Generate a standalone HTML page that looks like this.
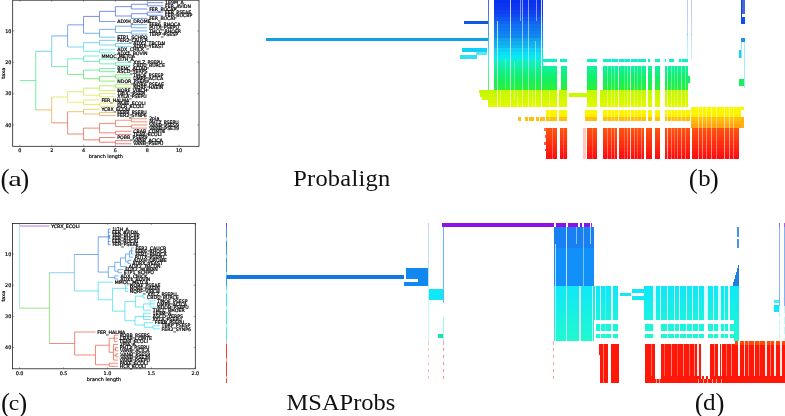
<!DOCTYPE html>
<html><head><meta charset="utf-8"><title>Alignment comparison</title>
<style>html,body{margin:0;padding:0;background:#fff}svg{display:block}text{fill:#111}</style></head>
<body><svg width="785" height="416" viewBox="0 0 785 416">
<rect width="785" height="416" fill="#fff"/>
<g id="heat" shape-rendering="crispEdges">
<rect x="494.00" y="0.00" width="49.00" height="3.00" fill="#0830f0"/>
<rect x="488.00" y="0.00" width="1.00" height="3.00" fill="#0830f0" fill-opacity="0.75"/>
<rect x="494.00" y="3.00" width="49.00" height="4.00" fill="#0a34f0"/>
<rect x="488.00" y="3.00" width="1.00" height="4.00" fill="#0a34f0" fill-opacity="0.75"/>
<rect x="494.00" y="7.00" width="49.00" height="3.00" fill="#0c38f0"/>
<rect x="488.00" y="7.00" width="1.00" height="3.00" fill="#0c38f0" fill-opacity="0.75"/>
<rect x="494.00" y="10.00" width="49.00" height="4.00" fill="#0e40f0"/>
<rect x="488.00" y="10.00" width="1.00" height="4.00" fill="#0e40f0" fill-opacity="0.75"/>
<rect x="494.00" y="14.00" width="49.00" height="3.00" fill="#1048f0"/>
<rect x="488.00" y="14.00" width="1.00" height="3.00" fill="#1048f0" fill-opacity="0.75"/>
<rect x="494.00" y="17.00" width="49.00" height="4.00" fill="#1056f0"/>
<rect x="488.00" y="17.00" width="1.00" height="4.00" fill="#1056f0" fill-opacity="0.75"/>
<rect x="494.00" y="21.00" width="49.00" height="3.00" fill="#1064f0"/>
<rect x="488.00" y="21.00" width="1.00" height="3.00" fill="#1064f0" fill-opacity="0.75"/>
<rect x="494.00" y="24.00" width="49.00" height="4.00" fill="#1070f0"/>
<rect x="488.00" y="24.00" width="1.00" height="4.00" fill="#1070f0" fill-opacity="0.75"/>
<rect x="494.00" y="28.00" width="49.00" height="3.00" fill="#1078f0"/>
<rect x="488.00" y="28.00" width="1.00" height="3.00" fill="#1078f0" fill-opacity="0.75"/>
<rect x="494.00" y="31.00" width="49.00" height="4.00" fill="#1080f0"/>
<rect x="488.00" y="31.00" width="1.00" height="4.00" fill="#1080f0" fill-opacity="0.75"/>
<rect x="494.00" y="34.00" width="49.00" height="4.00" fill="#1088f0"/>
<rect x="488.00" y="34.00" width="1.00" height="4.00" fill="#1088f0" fill-opacity="0.75"/>
<rect x="494.00" y="38.00" width="49.00" height="3.00" fill="#10a0ec"/>
<rect x="488.00" y="38.00" width="1.00" height="3.00" fill="#10a0ec" fill-opacity="0.75"/>
<rect x="494.00" y="41.00" width="49.00" height="4.00" fill="#10acee"/>
<rect x="488.00" y="41.00" width="1.00" height="4.00" fill="#10acee" fill-opacity="0.75"/>
<rect x="494.00" y="45.00" width="49.00" height="3.00" fill="#10b8f0"/>
<rect x="488.00" y="45.00" width="1.00" height="3.00" fill="#10b8f0" fill-opacity="0.75"/>
<rect x="494.00" y="48.00" width="49.00" height="4.00" fill="#10d0f8"/>
<rect x="488.00" y="48.00" width="1.00" height="4.00" fill="#10d0f8" fill-opacity="0.75"/>
<rect x="494.00" y="52.00" width="49.00" height="3.00" fill="#08e0f8"/>
<rect x="488.00" y="52.00" width="1.00" height="3.00" fill="#08e0f8" fill-opacity="0.75"/>
<rect x="494.00" y="55.00" width="49.00" height="4.00" fill="#08e8f0"/>
<rect x="488.00" y="55.00" width="1.00" height="4.00" fill="#08e8f0" fill-opacity="0.75"/>
<rect x="494.00" y="59.00" width="49.00" height="3.00" fill="#10f0c8"/>
<rect x="488.00" y="59.00" width="1.00" height="3.00" fill="#10f0c8" fill-opacity="0.75"/>
<rect x="494.00" y="62.00" width="49.00" height="4.00" fill="#10f0b4"/>
<rect x="488.00" y="62.00" width="1.00" height="4.00" fill="#10f0b4" fill-opacity="0.75"/>
<rect x="494.00" y="66.00" width="49.00" height="3.00" fill="#10f0a0"/>
<rect x="488.00" y="66.00" width="1.00" height="3.00" fill="#10f0a0" fill-opacity="0.75"/>
<rect x="494.00" y="69.00" width="49.00" height="3.00" fill="#10f08d"/>
<rect x="488.00" y="69.00" width="1.00" height="3.00" fill="#10f08d" fill-opacity="0.75"/>
<rect x="494.00" y="72.00" width="49.00" height="4.00" fill="#10f07b"/>
<rect x="488.00" y="72.00" width="1.00" height="4.00" fill="#10f07b" fill-opacity="0.75"/>
<rect x="494.00" y="76.00" width="49.00" height="3.00" fill="#10f068"/>
<rect x="488.00" y="76.00" width="1.00" height="3.00" fill="#10f068" fill-opacity="0.75"/>
<rect x="494.00" y="79.00" width="49.00" height="4.00" fill="#18f05b"/>
<rect x="488.00" y="79.00" width="1.00" height="4.00" fill="#18f05b" fill-opacity="0.75"/>
<rect x="494.00" y="83.00" width="49.00" height="3.00" fill="#20f04d"/>
<rect x="488.00" y="83.00" width="1.00" height="3.00" fill="#20f04d" fill-opacity="0.75"/>
<rect x="494.00" y="86.00" width="49.00" height="4.00" fill="#28f040"/>
<rect x="488.00" y="86.00" width="1.00" height="4.00" fill="#28f040" fill-opacity="0.75"/>
<rect x="687.00" y="0.00" width="1.00" height="3.00" fill="#0830f0" fill-opacity="0.27"/>
<rect x="691.00" y="0.00" width="1.00" height="3.00" fill="#0830f0" fill-opacity="0.27"/>
<rect x="687.00" y="3.00" width="1.00" height="4.00" fill="#0a34f0" fill-opacity="0.27"/>
<rect x="691.00" y="3.00" width="1.00" height="4.00" fill="#0a34f0" fill-opacity="0.27"/>
<rect x="687.00" y="7.00" width="1.00" height="3.00" fill="#0c38f0" fill-opacity="0.27"/>
<rect x="691.00" y="7.00" width="1.00" height="3.00" fill="#0c38f0" fill-opacity="0.27"/>
<rect x="687.00" y="10.00" width="1.00" height="4.00" fill="#0e40f0" fill-opacity="0.27"/>
<rect x="691.00" y="10.00" width="1.00" height="4.00" fill="#0e40f0" fill-opacity="0.27"/>
<rect x="687.00" y="14.00" width="1.00" height="3.00" fill="#1048f0" fill-opacity="0.27"/>
<rect x="691.00" y="14.00" width="1.00" height="3.00" fill="#1048f0" fill-opacity="0.27"/>
<rect x="687.00" y="17.00" width="1.00" height="4.00" fill="#1056f0" fill-opacity="0.27"/>
<rect x="691.00" y="17.00" width="1.00" height="4.00" fill="#1056f0" fill-opacity="0.27"/>
<rect x="687.00" y="21.00" width="1.00" height="3.00" fill="#1064f0" fill-opacity="0.27"/>
<rect x="691.00" y="21.00" width="1.00" height="3.00" fill="#1064f0" fill-opacity="0.27"/>
<rect x="687.00" y="24.00" width="1.00" height="4.00" fill="#1070f0" fill-opacity="0.27"/>
<rect x="691.00" y="24.00" width="1.00" height="4.00" fill="#1070f0" fill-opacity="0.27"/>
<rect x="687.00" y="28.00" width="1.00" height="3.00" fill="#1078f0" fill-opacity="0.27"/>
<rect x="691.00" y="28.00" width="1.00" height="3.00" fill="#1078f0" fill-opacity="0.27"/>
<rect x="687.00" y="31.00" width="1.00" height="4.00" fill="#1080f0" fill-opacity="0.27"/>
<rect x="691.00" y="31.00" width="1.00" height="4.00" fill="#1080f0" fill-opacity="0.27"/>
<rect x="687.00" y="34.00" width="1.00" height="4.00" fill="#1088f0" fill-opacity="0.27"/>
<rect x="691.00" y="34.00" width="1.00" height="4.00" fill="#1088f0" fill-opacity="0.27"/>
<rect x="687.00" y="38.00" width="1.00" height="3.00" fill="#10a0ec" fill-opacity="0.27"/>
<rect x="691.00" y="38.00" width="1.00" height="3.00" fill="#10a0ec" fill-opacity="0.27"/>
<rect x="687.00" y="41.00" width="1.00" height="4.00" fill="#10acee" fill-opacity="0.27"/>
<rect x="691.00" y="41.00" width="1.00" height="4.00" fill="#10acee" fill-opacity="0.27"/>
<rect x="687.00" y="45.00" width="1.00" height="3.00" fill="#10b8f0" fill-opacity="0.27"/>
<rect x="691.00" y="45.00" width="1.00" height="3.00" fill="#10b8f0" fill-opacity="0.27"/>
<rect x="687.00" y="48.00" width="1.00" height="4.00" fill="#10d0f8" fill-opacity="0.27"/>
<rect x="691.00" y="48.00" width="1.00" height="4.00" fill="#10d0f8" fill-opacity="0.27"/>
<rect x="687.00" y="52.00" width="1.00" height="3.00" fill="#08e0f8" fill-opacity="0.27"/>
<rect x="691.00" y="52.00" width="1.00" height="3.00" fill="#08e0f8" fill-opacity="0.27"/>
<rect x="687.00" y="55.00" width="1.00" height="4.00" fill="#08e8f0" fill-opacity="0.27"/>
<rect x="691.00" y="55.00" width="1.00" height="4.00" fill="#08e8f0" fill-opacity="0.27"/>
<rect x="464.00" y="21.00" width="24.00" height="3.00" fill="#1058e0"/>
<rect x="266.00" y="38.00" width="222.00" height="3.00" fill="#10a0e8"/>
<rect x="462.00" y="48.00" width="25.00" height="4.00" fill="#10d0f8"/>
<rect x="476.00" y="52.00" width="11.00" height="3.00" fill="#60e4f8"/>
<rect x="460.00" y="55.00" width="17.00" height="4.00" fill="#30e0f8"/>
<rect x="543.00" y="59.00" width="15.00" height="3.00" fill="#10f0c8"/>
<rect x="560.00" y="59.00" width="7.00" height="3.00" fill="#10f0c8"/>
<rect x="587.00" y="59.00" width="10.00" height="3.00" fill="#10f0c8"/>
<rect x="603.00" y="59.00" width="15.00" height="3.00" fill="#10f0c8"/>
<rect x="619.00" y="59.00" width="11.00" height="3.00" fill="#10f0c8"/>
<rect x="631.00" y="59.00" width="19.00" height="3.00" fill="#10f0c8"/>
<rect x="655.00" y="59.00" width="11.00" height="3.00" fill="#10f0c8"/>
<rect x="669.00" y="59.00" width="5.00" height="3.00" fill="#10f0c8"/>
<rect x="679.00" y="59.00" width="9.00" height="3.00" fill="#10f0c8"/>
<rect x="543.00" y="66.00" width="15.00" height="3.00" fill="#10f0a0"/>
<rect x="561.00" y="66.00" width="6.00" height="3.00" fill="#10f0a0"/>
<rect x="587.00" y="66.00" width="10.00" height="3.00" fill="#10f0a0"/>
<rect x="603.00" y="66.00" width="43.00" height="3.00" fill="#10f0a0"/>
<rect x="648.00" y="66.00" width="4.00" height="3.00" fill="#10f0a0"/>
<rect x="655.00" y="66.00" width="5.00" height="3.00" fill="#10f0a0"/>
<rect x="665.00" y="66.00" width="23.00" height="3.00" fill="#10f0a0"/>
<rect x="543.00" y="69.00" width="15.00" height="3.00" fill="#10f08d"/>
<rect x="561.00" y="69.00" width="6.00" height="3.00" fill="#10f08d"/>
<rect x="587.00" y="69.00" width="10.00" height="3.00" fill="#10f08d"/>
<rect x="603.00" y="69.00" width="43.00" height="3.00" fill="#10f08d"/>
<rect x="648.00" y="69.00" width="4.00" height="3.00" fill="#10f08d"/>
<rect x="655.00" y="69.00" width="5.00" height="3.00" fill="#10f08d"/>
<rect x="665.00" y="69.00" width="23.00" height="3.00" fill="#10f08d"/>
<rect x="543.00" y="72.00" width="15.00" height="4.00" fill="#10f07b"/>
<rect x="561.00" y="72.00" width="6.00" height="4.00" fill="#10f07b"/>
<rect x="587.00" y="72.00" width="10.00" height="4.00" fill="#10f07b"/>
<rect x="603.00" y="72.00" width="43.00" height="4.00" fill="#10f07b"/>
<rect x="648.00" y="72.00" width="4.00" height="4.00" fill="#10f07b"/>
<rect x="655.00" y="72.00" width="5.00" height="4.00" fill="#10f07b"/>
<rect x="665.00" y="72.00" width="23.00" height="4.00" fill="#10f07b"/>
<rect x="543.00" y="76.00" width="15.00" height="3.00" fill="#10f068"/>
<rect x="561.00" y="76.00" width="6.00" height="3.00" fill="#10f068"/>
<rect x="587.00" y="76.00" width="10.00" height="3.00" fill="#10f068"/>
<rect x="603.00" y="76.00" width="43.00" height="3.00" fill="#10f068"/>
<rect x="648.00" y="76.00" width="4.00" height="3.00" fill="#10f068"/>
<rect x="655.00" y="76.00" width="5.00" height="3.00" fill="#10f068"/>
<rect x="665.00" y="76.00" width="23.00" height="3.00" fill="#10f068"/>
<rect x="543.00" y="79.00" width="15.00" height="4.00" fill="#18f05b"/>
<rect x="561.00" y="79.00" width="6.00" height="4.00" fill="#18f05b"/>
<rect x="587.00" y="79.00" width="10.00" height="4.00" fill="#18f05b"/>
<rect x="603.00" y="79.00" width="43.00" height="4.00" fill="#18f05b"/>
<rect x="648.00" y="79.00" width="4.00" height="4.00" fill="#18f05b"/>
<rect x="655.00" y="79.00" width="5.00" height="4.00" fill="#18f05b"/>
<rect x="665.00" y="79.00" width="23.00" height="4.00" fill="#18f05b"/>
<rect x="543.00" y="83.00" width="15.00" height="3.00" fill="#20f04d"/>
<rect x="561.00" y="83.00" width="6.00" height="3.00" fill="#20f04d"/>
<rect x="587.00" y="83.00" width="10.00" height="3.00" fill="#20f04d"/>
<rect x="603.00" y="83.00" width="43.00" height="3.00" fill="#20f04d"/>
<rect x="648.00" y="83.00" width="4.00" height="3.00" fill="#20f04d"/>
<rect x="655.00" y="83.00" width="5.00" height="3.00" fill="#20f04d"/>
<rect x="665.00" y="83.00" width="23.00" height="3.00" fill="#20f04d"/>
<rect x="543.00" y="86.00" width="15.00" height="4.00" fill="#28f040"/>
<rect x="561.00" y="86.00" width="6.00" height="4.00" fill="#28f040"/>
<rect x="587.00" y="86.00" width="10.00" height="4.00" fill="#28f040"/>
<rect x="603.00" y="86.00" width="43.00" height="4.00" fill="#28f040"/>
<rect x="648.00" y="86.00" width="4.00" height="4.00" fill="#28f040"/>
<rect x="655.00" y="86.00" width="5.00" height="4.00" fill="#28f040"/>
<rect x="665.00" y="86.00" width="23.00" height="4.00" fill="#28f040"/>
<rect x="688.00" y="76.00" width="2.00" height="3.00" fill="#10f068"/>
<rect x="688.00" y="79.00" width="2.00" height="4.00" fill="#18f05b"/>
<rect x="739.00" y="79.00" width="5.00" height="7.00" fill="#18f05b"/>
<rect x="741.00" y="0.00" width="1.00" height="24.00" fill="#1040e0"/>
<rect x="742.00" y="0.00" width="3.00" height="14.00" fill="#1040e0" fill-opacity="0.8"/>
<rect x="741.00" y="17.00" width="4.00" height="7.00" fill="#1050e8"/>
<rect x="741.00" y="38.00" width="4.00" height="4.00" fill="#2090f0"/>
<rect x="741.00" y="42.00" width="1.00" height="16.00" fill="#10d0f8" fill-opacity="0.48"/>
<rect x="744.00" y="42.00" width="1.00" height="46.00" fill="#10d0f8" fill-opacity="0.4"/>
<rect x="739.00" y="50.00" width="2.00" height="8.00" fill="#10d0f8"/>
<rect x="479.00" y="90.00" width="89.00" height="3.00" fill="#c4f800"/>
<rect x="587.00" y="90.00" width="101.00" height="3.00" fill="#c4f800"/>
<rect x="480.00" y="93.00" width="88.00" height="4.00" fill="#cbf800"/>
<rect x="587.00" y="93.00" width="101.00" height="4.00" fill="#cbf800"/>
<rect x="482.00" y="97.00" width="86.00" height="3.00" fill="#d2f800"/>
<rect x="587.00" y="97.00" width="101.00" height="3.00" fill="#d2f800"/>
<rect x="568.00" y="93.00" width="19.00" height="4.00" fill="#cbf800"/>
<rect x="488.00" y="100.00" width="80.00" height="4.00" fill="#d9f800"/>
<rect x="587.00" y="100.00" width="101.00" height="4.00" fill="#d9f800"/>
<rect x="488.00" y="103.00" width="80.00" height="4.00" fill="#e0f800"/>
<rect x="587.00" y="103.00" width="101.00" height="4.00" fill="#e0f800"/>
<rect x="691.00" y="107.00" width="53.00" height="3.00" fill="#f8f800"/>
<rect x="546.00" y="110.00" width="11.00" height="4.00" fill="#fcf400"/>
<rect x="559.00" y="110.00" width="9.00" height="4.00" fill="#fcf400"/>
<rect x="585.00" y="110.00" width="12.00" height="4.00" fill="#fcf400"/>
<rect x="603.00" y="110.00" width="43.00" height="4.00" fill="#fcf400"/>
<rect x="648.00" y="110.00" width="4.00" height="4.00" fill="#fcf400"/>
<rect x="655.00" y="110.00" width="5.00" height="4.00" fill="#fcf400"/>
<rect x="665.00" y="110.00" width="76.00" height="4.00" fill="#fcf400"/>
<rect x="546.00" y="114.00" width="11.00" height="3.00" fill="#fff000"/>
<rect x="559.00" y="114.00" width="9.00" height="3.00" fill="#fff000"/>
<rect x="585.00" y="114.00" width="12.00" height="3.00" fill="#fff000"/>
<rect x="603.00" y="114.00" width="43.00" height="3.00" fill="#fff000"/>
<rect x="648.00" y="114.00" width="4.00" height="3.00" fill="#fff000"/>
<rect x="655.00" y="114.00" width="5.00" height="3.00" fill="#fff000"/>
<rect x="665.00" y="114.00" width="76.00" height="3.00" fill="#fff000"/>
<rect x="518.00" y="117.00" width="3.00" height="4.00" fill="#ffc010"/>
<rect x="525.00" y="117.00" width="3.00" height="4.00" fill="#ffc010"/>
<rect x="529.00" y="117.00" width="5.00" height="4.00" fill="#ffc010"/>
<rect x="536.00" y="117.00" width="3.00" height="4.00" fill="#ffc010"/>
<rect x="540.00" y="117.00" width="5.00" height="4.00" fill="#ffc010"/>
<rect x="546.00" y="117.00" width="11.00" height="4.00" fill="#ffc010"/>
<rect x="559.00" y="117.00" width="9.00" height="4.00" fill="#ffc010"/>
<rect x="585.00" y="117.00" width="12.00" height="4.00" fill="#ffc010"/>
<rect x="603.00" y="117.00" width="43.00" height="4.00" fill="#ffc010"/>
<rect x="648.00" y="117.00" width="4.00" height="4.00" fill="#ffc010"/>
<rect x="655.00" y="117.00" width="5.00" height="4.00" fill="#ffc010"/>
<rect x="665.00" y="117.00" width="76.00" height="4.00" fill="#ffc010"/>
<rect x="691.00" y="121.00" width="53.00" height="3.00" fill="#ffb210"/>
<rect x="691.00" y="124.00" width="53.00" height="4.00" fill="#ffa410"/>
<rect x="741.00" y="117.00" width="3.00" height="11.00" fill="#ffb210"/>
<rect x="546.00" y="128.00" width="11.00" height="3.00" fill="#ff5010"/>
<rect x="560.00" y="128.00" width="8.00" height="3.00" fill="#ff5010"/>
<rect x="587.00" y="128.00" width="10.00" height="3.00" fill="#ff5010"/>
<rect x="603.00" y="128.00" width="14.00" height="3.00" fill="#ff5010"/>
<rect x="619.00" y="128.00" width="11.00" height="3.00" fill="#ff5010"/>
<rect x="631.00" y="128.00" width="13.00" height="3.00" fill="#ff5010"/>
<rect x="646.00" y="128.00" width="6.00" height="3.00" fill="#ff5010"/>
<rect x="655.00" y="128.00" width="5.00" height="3.00" fill="#ff5010"/>
<rect x="665.00" y="128.00" width="25.00" height="3.00" fill="#ff5010"/>
<rect x="692.00" y="128.00" width="47.00" height="3.00" fill="#ff5010"/>
<rect x="546.00" y="131.00" width="11.00" height="4.00" fill="#ff4810"/>
<rect x="560.00" y="131.00" width="8.00" height="4.00" fill="#ff4810"/>
<rect x="587.00" y="131.00" width="10.00" height="4.00" fill="#ff4810"/>
<rect x="603.00" y="131.00" width="14.00" height="4.00" fill="#ff4810"/>
<rect x="619.00" y="131.00" width="11.00" height="4.00" fill="#ff4810"/>
<rect x="631.00" y="131.00" width="13.00" height="4.00" fill="#ff4810"/>
<rect x="646.00" y="131.00" width="6.00" height="4.00" fill="#ff4810"/>
<rect x="655.00" y="131.00" width="5.00" height="4.00" fill="#ff4810"/>
<rect x="665.00" y="131.00" width="25.00" height="4.00" fill="#ff4810"/>
<rect x="692.00" y="131.00" width="47.00" height="4.00" fill="#ff4810"/>
<rect x="546.00" y="135.00" width="11.00" height="3.00" fill="#ff4010"/>
<rect x="560.00" y="135.00" width="8.00" height="3.00" fill="#ff4010"/>
<rect x="587.00" y="135.00" width="10.00" height="3.00" fill="#ff4010"/>
<rect x="603.00" y="135.00" width="14.00" height="3.00" fill="#ff4010"/>
<rect x="619.00" y="135.00" width="11.00" height="3.00" fill="#ff4010"/>
<rect x="631.00" y="135.00" width="13.00" height="3.00" fill="#ff4010"/>
<rect x="646.00" y="135.00" width="6.00" height="3.00" fill="#ff4010"/>
<rect x="655.00" y="135.00" width="5.00" height="3.00" fill="#ff4010"/>
<rect x="665.00" y="135.00" width="25.00" height="3.00" fill="#ff4010"/>
<rect x="692.00" y="135.00" width="47.00" height="3.00" fill="#ff4010"/>
<rect x="546.00" y="138.00" width="11.00" height="3.00" fill="#ff3810"/>
<rect x="560.00" y="138.00" width="8.00" height="3.00" fill="#ff3810"/>
<rect x="587.00" y="138.00" width="10.00" height="3.00" fill="#ff3810"/>
<rect x="603.00" y="138.00" width="14.00" height="3.00" fill="#ff3810"/>
<rect x="619.00" y="138.00" width="11.00" height="3.00" fill="#ff3810"/>
<rect x="631.00" y="138.00" width="13.00" height="3.00" fill="#ff3810"/>
<rect x="646.00" y="138.00" width="6.00" height="3.00" fill="#ff3810"/>
<rect x="655.00" y="138.00" width="5.00" height="3.00" fill="#ff3810"/>
<rect x="665.00" y="138.00" width="25.00" height="3.00" fill="#ff3810"/>
<rect x="692.00" y="138.00" width="47.00" height="3.00" fill="#ff3810"/>
<rect x="546.00" y="141.00" width="11.00" height="4.00" fill="#ff3010"/>
<rect x="560.00" y="141.00" width="8.00" height="4.00" fill="#ff3010"/>
<rect x="587.00" y="141.00" width="10.00" height="4.00" fill="#ff3010"/>
<rect x="603.00" y="141.00" width="14.00" height="4.00" fill="#ff3010"/>
<rect x="619.00" y="141.00" width="11.00" height="4.00" fill="#ff3010"/>
<rect x="631.00" y="141.00" width="13.00" height="4.00" fill="#ff3010"/>
<rect x="646.00" y="141.00" width="6.00" height="4.00" fill="#ff3010"/>
<rect x="655.00" y="141.00" width="5.00" height="4.00" fill="#ff3010"/>
<rect x="665.00" y="141.00" width="25.00" height="4.00" fill="#ff3010"/>
<rect x="692.00" y="141.00" width="47.00" height="4.00" fill="#ff3010"/>
<rect x="546.00" y="145.00" width="11.00" height="3.00" fill="#ff2810"/>
<rect x="560.00" y="145.00" width="8.00" height="3.00" fill="#ff2810"/>
<rect x="587.00" y="145.00" width="10.00" height="3.00" fill="#ff2810"/>
<rect x="603.00" y="145.00" width="14.00" height="3.00" fill="#ff2810"/>
<rect x="619.00" y="145.00" width="11.00" height="3.00" fill="#ff2810"/>
<rect x="631.00" y="145.00" width="13.00" height="3.00" fill="#ff2810"/>
<rect x="646.00" y="145.00" width="6.00" height="3.00" fill="#ff2810"/>
<rect x="655.00" y="145.00" width="5.00" height="3.00" fill="#ff2810"/>
<rect x="665.00" y="145.00" width="25.00" height="3.00" fill="#ff2810"/>
<rect x="692.00" y="145.00" width="47.00" height="3.00" fill="#ff2810"/>
<rect x="546.00" y="148.00" width="11.00" height="4.00" fill="#ff2010"/>
<rect x="560.00" y="148.00" width="8.00" height="4.00" fill="#ff2010"/>
<rect x="587.00" y="148.00" width="10.00" height="4.00" fill="#ff2010"/>
<rect x="603.00" y="148.00" width="14.00" height="4.00" fill="#ff2010"/>
<rect x="619.00" y="148.00" width="11.00" height="4.00" fill="#ff2010"/>
<rect x="631.00" y="148.00" width="13.00" height="4.00" fill="#ff2010"/>
<rect x="646.00" y="148.00" width="6.00" height="4.00" fill="#ff2010"/>
<rect x="655.00" y="148.00" width="5.00" height="4.00" fill="#ff2010"/>
<rect x="665.00" y="148.00" width="25.00" height="4.00" fill="#ff2010"/>
<rect x="692.00" y="148.00" width="47.00" height="4.00" fill="#ff2010"/>
<rect x="546.00" y="152.00" width="11.00" height="3.00" fill="#ff1810"/>
<rect x="560.00" y="152.00" width="8.00" height="3.00" fill="#ff1810"/>
<rect x="587.00" y="152.00" width="10.00" height="3.00" fill="#ff1810"/>
<rect x="603.00" y="152.00" width="14.00" height="3.00" fill="#ff1810"/>
<rect x="619.00" y="152.00" width="11.00" height="3.00" fill="#ff1810"/>
<rect x="631.00" y="152.00" width="13.00" height="3.00" fill="#ff1810"/>
<rect x="646.00" y="152.00" width="6.00" height="3.00" fill="#ff1810"/>
<rect x="655.00" y="152.00" width="5.00" height="3.00" fill="#ff1810"/>
<rect x="665.00" y="152.00" width="25.00" height="3.00" fill="#ff1810"/>
<rect x="692.00" y="152.00" width="47.00" height="3.00" fill="#ff1810"/>
<rect x="546.00" y="155.00" width="11.00" height="4.00" fill="#ff1010"/>
<rect x="560.00" y="155.00" width="8.00" height="4.00" fill="#ff1010"/>
<rect x="587.00" y="155.00" width="10.00" height="4.00" fill="#ff1010"/>
<rect x="603.00" y="155.00" width="14.00" height="4.00" fill="#ff1010"/>
<rect x="619.00" y="155.00" width="11.00" height="4.00" fill="#ff1010"/>
<rect x="631.00" y="155.00" width="13.00" height="4.00" fill="#ff1010"/>
<rect x="646.00" y="155.00" width="6.00" height="4.00" fill="#ff1010"/>
<rect x="655.00" y="155.00" width="5.00" height="4.00" fill="#ff1010"/>
<rect x="665.00" y="155.00" width="25.00" height="4.00" fill="#ff1010"/>
<rect x="692.00" y="155.00" width="47.00" height="4.00" fill="#ff1010"/>
<rect x="544.00" y="128.00" width="2.00" height="3.00" fill="#ff5010" fill-opacity="0.8"/>
<rect x="545.00" y="135.00" width="1.00" height="3.00" fill="#ff4010" fill-opacity="0.8"/>
<rect x="544.00" y="142.00" width="2.00" height="3.00" fill="#ff3010" fill-opacity="0.8"/>
<rect x="545.00" y="149.00" width="1.00" height="2.00" fill="#ff2010" fill-opacity="0.8"/>
<rect x="497.00" y="21.00" width="1.00" height="87.00" fill="#ffffff" fill-opacity="0.7"/>
<rect x="510.00" y="0.00" width="1.00" height="108.00" fill="#ffffff" fill-opacity="0.75"/>
<rect x="520.00" y="0.00" width="1.00" height="21.00" fill="#ffffff" fill-opacity="0.48"/>
<rect x="522.00" y="0.00" width="1.00" height="108.00" fill="#ffffff" fill-opacity="0.54"/>
<rect x="528.00" y="0.00" width="1.00" height="108.00" fill="#ffffff" fill-opacity="0.54"/>
<rect x="535.00" y="41.00" width="1.00" height="67.00" fill="#ffffff" fill-opacity="0.45"/>
<rect x="536.00" y="0.00" width="1.00" height="21.00" fill="#ffffff" fill-opacity="0.48"/>
<rect x="541.00" y="0.00" width="1.00" height="108.00" fill="#ffffff" fill-opacity="0.85"/>
<rect x="514.00" y="62.00" width="1.00" height="38.00" fill="#ffffff" fill-opacity="0.35"/>
<rect x="505.00" y="58.00" width="1.00" height="32.00" fill="#ffffff" fill-opacity="0.28"/>
<rect x="500.00" y="90.00" width="1.00" height="18.00" fill="#ffffff" fill-opacity="0.35"/>
<rect x="517.00" y="90.00" width="1.00" height="18.00" fill="#ffffff" fill-opacity="0.35"/>
<rect x="532.00" y="90.00" width="1.00" height="18.00" fill="#ffffff" fill-opacity="0.35"/>
<rect x="549.00" y="90.00" width="1.00" height="30.00" fill="#ffffff" fill-opacity="0.35"/>
<rect x="557.00" y="59.00" width="2.00" height="100.00" fill="#ffffff" fill-opacity="0.9"/>
<rect x="567.00" y="59.00" width="2.00" height="100.00" fill="#ffffff" fill-opacity="0.9"/>
<rect x="597.00" y="59.00" width="3.00" height="100.00" fill="#ffffff" fill-opacity="0.9"/>
<rect x="611.00" y="59.00" width="1.00" height="100.00" fill="#ffffff" fill-opacity="0.35"/>
<rect x="618.00" y="59.00" width="1.00" height="100.00" fill="#ffffff" fill-opacity="0.85"/>
<rect x="624.00" y="59.00" width="1.00" height="100.00" fill="#ffffff" fill-opacity="0.24"/>
<rect x="630.00" y="59.00" width="1.00" height="100.00" fill="#ffffff" fill-opacity="0.8"/>
<rect x="637.00" y="59.00" width="1.00" height="100.00" fill="#ffffff" fill-opacity="0.24"/>
<rect x="652.00" y="59.00" width="3.00" height="100.00" fill="#ffffff" fill-opacity="0.95"/>
<rect x="660.00" y="59.00" width="5.00" height="100.00" fill="#ffffff" fill-opacity="0.95"/>
<rect x="667.00" y="59.00" width="1.00" height="100.00" fill="#ffffff" fill-opacity="0.63"/>
<rect x="674.00" y="59.00" width="1.00" height="100.00" fill="#ffffff" fill-opacity="0.24"/>
<rect x="681.00" y="59.00" width="1.00" height="100.00" fill="#ffffff" fill-opacity="0.48"/>
<rect x="646.00" y="59.00" width="2.00" height="68.00" fill="#ffffff" fill-opacity="0.9"/>
<rect x="607.00" y="62.00" width="1.00" height="97.00" fill="#ffffff" fill-opacity="0.36"/>
<rect x="614.00" y="62.00" width="1.00" height="97.00" fill="#ffffff" fill-opacity="0.36"/>
<rect x="627.00" y="62.00" width="1.00" height="97.00" fill="#ffffff" fill-opacity="0.36"/>
<rect x="634.00" y="62.00" width="1.00" height="97.00" fill="#ffffff" fill-opacity="0.36"/>
<rect x="641.00" y="62.00" width="1.00" height="97.00" fill="#ffffff" fill-opacity="0.36"/>
<rect x="671.00" y="62.00" width="1.00" height="97.00" fill="#ffffff" fill-opacity="0.36"/>
<rect x="677.00" y="62.00" width="1.00" height="97.00" fill="#ffffff" fill-opacity="0.36"/>
<rect x="685.00" y="62.00" width="1.00" height="97.00" fill="#ffffff" fill-opacity="0.36"/>
<rect x="690.00" y="106.00" width="1.00" height="53.00" fill="#ffffff" fill-opacity="0.9"/>
<rect x="698.00" y="107.00" width="1.00" height="52.00" fill="#ffffff" fill-opacity="0.56"/>
<rect x="702.00" y="107.00" width="1.00" height="52.00" fill="#ffffff" fill-opacity="0.48"/>
<rect x="706.00" y="107.00" width="1.00" height="52.00" fill="#ffffff" fill-opacity="0.4"/>
<rect x="711.00" y="107.00" width="1.00" height="52.00" fill="#ffffff" fill-opacity="0.48"/>
<rect x="716.00" y="107.00" width="1.00" height="52.00" fill="#ffffff" fill-opacity="0.4"/>
<rect x="724.00" y="107.00" width="1.00" height="52.00" fill="#ffffff" fill-opacity="0.56"/>
<rect x="729.00" y="107.00" width="1.00" height="52.00" fill="#ffffff" fill-opacity="0.48"/>
<rect x="733.00" y="107.00" width="1.00" height="52.00" fill="#ffffff" fill-opacity="0.4"/>
<rect x="552.00" y="127.00" width="1.00" height="32.00" fill="#ffffff" fill-opacity="0.3"/>
<rect x="563.00" y="127.00" width="1.00" height="32.00" fill="#ffffff" fill-opacity="0.24"/>
<rect x="592.00" y="127.00" width="1.00" height="32.00" fill="#ffffff" fill-opacity="0.24"/>
<rect x="583.00" y="128.00" width="3.00" height="31.00" fill="#ffc8c0"/>
<rect x="630.00" y="128.00" width="1.00" height="31.00" fill="#ffd0c8"/>
<rect x="226.00" y="223.00" width="1.00" height="4.00" fill="#9010e8" fill-opacity="0.85"/>
<rect x="428.00" y="223.00" width="1.00" height="4.00" fill="#9010e8" fill-opacity="0.27"/>
<rect x="779.00" y="223.00" width="1.00" height="4.00" fill="#b060e8"/>
<rect x="784.00" y="223.00" width="1.00" height="4.00" fill="#b060e8"/>
<rect x="226.00" y="227.00" width="1.00" height="3.00" fill="#1880f0" fill-opacity="0.85"/>
<rect x="428.00" y="227.00" width="1.00" height="3.00" fill="#1880f0" fill-opacity="0.27"/>
<rect x="443.00" y="227.00" width="1.00" height="3.00" fill="#68b4f4"/>
<rect x="779.00" y="227.00" width="1.00" height="3.00" fill="#80b4f4"/>
<rect x="784.00" y="227.00" width="1.00" height="3.00" fill="#80b4f4"/>
<rect x="226.00" y="230.00" width="1.00" height="4.00" fill="#1880f0" fill-opacity="0.85"/>
<rect x="428.00" y="230.00" width="1.00" height="4.00" fill="#1880f0" fill-opacity="0.27"/>
<rect x="443.00" y="230.00" width="1.00" height="4.00" fill="#68b4f4"/>
<rect x="779.00" y="230.00" width="1.00" height="4.00" fill="#80b4f4"/>
<rect x="784.00" y="230.00" width="1.00" height="4.00" fill="#80b4f4"/>
<rect x="226.00" y="234.00" width="1.00" height="3.00" fill="#1880f0" fill-opacity="0.85"/>
<rect x="428.00" y="234.00" width="1.00" height="3.00" fill="#1880f0" fill-opacity="0.27"/>
<rect x="443.00" y="234.00" width="1.00" height="3.00" fill="#68b4f4"/>
<rect x="779.00" y="234.00" width="1.00" height="3.00" fill="#80b4f4"/>
<rect x="784.00" y="234.00" width="1.00" height="3.00" fill="#80b4f4"/>
<rect x="226.00" y="237.00" width="1.00" height="4.00" fill="#1880f0" fill-opacity="0.4"/>
<rect x="428.00" y="237.00" width="1.00" height="4.00" fill="#1880f0" fill-opacity="0.27"/>
<rect x="443.00" y="237.00" width="1.00" height="4.00" fill="#68b4f4"/>
<rect x="779.00" y="237.00" width="1.00" height="4.00" fill="#80b4f4"/>
<rect x="784.00" y="237.00" width="1.00" height="4.00" fill="#80b4f4"/>
<rect x="226.00" y="241.00" width="1.00" height="3.00" fill="#1880f0" fill-opacity="0.85"/>
<rect x="428.00" y="241.00" width="1.00" height="3.00" fill="#1880f0" fill-opacity="0.27"/>
<rect x="443.00" y="241.00" width="1.00" height="3.00" fill="#68b4f4"/>
<rect x="779.00" y="241.00" width="1.00" height="3.00" fill="#80b4f4"/>
<rect x="784.00" y="241.00" width="1.00" height="3.00" fill="#80b4f4"/>
<rect x="226.00" y="244.00" width="1.00" height="4.00" fill="#1880f0" fill-opacity="0.85"/>
<rect x="428.00" y="244.00" width="1.00" height="4.00" fill="#1880f0" fill-opacity="0.27"/>
<rect x="443.00" y="244.00" width="1.00" height="4.00" fill="#68b4f4"/>
<rect x="779.00" y="244.00" width="1.00" height="4.00" fill="#80b4f4"/>
<rect x="784.00" y="244.00" width="1.00" height="4.00" fill="#80b4f4"/>
<rect x="226.00" y="248.00" width="1.00" height="3.00" fill="#1090f8" fill-opacity="0.85"/>
<rect x="428.00" y="248.00" width="1.00" height="3.00" fill="#1090f8" fill-opacity="0.27"/>
<rect x="443.00" y="248.00" width="1.00" height="3.00" fill="#68b4f4"/>
<rect x="779.00" y="248.00" width="1.00" height="3.00" fill="#80b4f4"/>
<rect x="784.00" y="248.00" width="1.00" height="3.00" fill="#80b4f4"/>
<rect x="226.00" y="251.00" width="1.00" height="4.00" fill="#1090f8" fill-opacity="0.85"/>
<rect x="428.00" y="251.00" width="1.00" height="4.00" fill="#1090f8" fill-opacity="0.27"/>
<rect x="443.00" y="251.00" width="1.00" height="4.00" fill="#68b4f4"/>
<rect x="779.00" y="251.00" width="1.00" height="4.00" fill="#80b4f4"/>
<rect x="784.00" y="251.00" width="1.00" height="4.00" fill="#80b4f4"/>
<rect x="226.00" y="255.00" width="1.00" height="3.00" fill="#1090f8" fill-opacity="0.4"/>
<rect x="428.00" y="255.00" width="1.00" height="3.00" fill="#1090f8" fill-opacity="0.27"/>
<rect x="443.00" y="255.00" width="1.00" height="3.00" fill="#68b4f4"/>
<rect x="779.00" y="255.00" width="1.00" height="3.00" fill="#80b4f4"/>
<rect x="784.00" y="255.00" width="1.00" height="3.00" fill="#80b4f4"/>
<rect x="226.00" y="258.00" width="1.00" height="4.00" fill="#1090f8" fill-opacity="0.85"/>
<rect x="428.00" y="258.00" width="1.00" height="4.00" fill="#1090f8" fill-opacity="0.27"/>
<rect x="443.00" y="258.00" width="1.00" height="4.00" fill="#68b4f4"/>
<rect x="779.00" y="258.00" width="1.00" height="4.00" fill="#80b4f4"/>
<rect x="784.00" y="258.00" width="1.00" height="4.00" fill="#80b4f4"/>
<rect x="226.00" y="261.00" width="1.00" height="4.00" fill="#1090f8" fill-opacity="0.85"/>
<rect x="428.00" y="261.00" width="1.00" height="4.00" fill="#1090f8" fill-opacity="0.27"/>
<rect x="443.00" y="261.00" width="1.00" height="4.00" fill="#68b4f4"/>
<rect x="779.00" y="261.00" width="1.00" height="4.00" fill="#80b4f4"/>
<rect x="784.00" y="261.00" width="1.00" height="4.00" fill="#80b4f4"/>
<rect x="226.00" y="265.00" width="1.00" height="3.00" fill="#1090f8" fill-opacity="0.85"/>
<rect x="428.00" y="265.00" width="1.00" height="3.00" fill="#1090f8" fill-opacity="0.27"/>
<rect x="443.00" y="265.00" width="1.00" height="3.00" fill="#68b4f4"/>
<rect x="779.00" y="265.00" width="1.00" height="3.00" fill="#80b4f4"/>
<rect x="784.00" y="265.00" width="1.00" height="3.00" fill="#80b4f4"/>
<rect x="226.00" y="268.00" width="1.00" height="4.00" fill="#1090f8" fill-opacity="0.85"/>
<rect x="428.00" y="268.00" width="1.00" height="4.00" fill="#1090f8" fill-opacity="0.27"/>
<rect x="443.00" y="268.00" width="1.00" height="4.00" fill="#68b4f4"/>
<rect x="779.00" y="268.00" width="1.00" height="4.00" fill="#80b4f4"/>
<rect x="784.00" y="268.00" width="1.00" height="4.00" fill="#80b4f4"/>
<rect x="226.00" y="272.00" width="1.00" height="3.00" fill="#1090f8" fill-opacity="0.4"/>
<rect x="428.00" y="272.00" width="1.00" height="3.00" fill="#1090f8" fill-opacity="0.27"/>
<rect x="443.00" y="272.00" width="1.00" height="3.00" fill="#68b4f4"/>
<rect x="779.00" y="272.00" width="1.00" height="3.00" fill="#80b4f4"/>
<rect x="784.00" y="272.00" width="1.00" height="3.00" fill="#80b4f4"/>
<rect x="226.00" y="275.00" width="1.00" height="4.00" fill="#1090f8" fill-opacity="0.85"/>
<rect x="428.00" y="275.00" width="1.00" height="4.00" fill="#1090f8" fill-opacity="0.27"/>
<rect x="443.00" y="275.00" width="1.00" height="4.00" fill="#68b4f4"/>
<rect x="779.00" y="275.00" width="1.00" height="4.00" fill="#80b4f4"/>
<rect x="784.00" y="275.00" width="1.00" height="4.00" fill="#80b4f4"/>
<rect x="226.00" y="279.00" width="1.00" height="3.00" fill="#1090f8" fill-opacity="0.85"/>
<rect x="428.00" y="279.00" width="1.00" height="3.00" fill="#1090f8" fill-opacity="0.27"/>
<rect x="443.00" y="279.00" width="1.00" height="3.00" fill="#68b4f4"/>
<rect x="779.00" y="279.00" width="1.00" height="3.00" fill="#80b4f4"/>
<rect x="784.00" y="279.00" width="1.00" height="3.00" fill="#80b4f4"/>
<rect x="226.00" y="282.00" width="1.00" height="4.00" fill="#1090f8" fill-opacity="0.85"/>
<rect x="428.00" y="282.00" width="1.00" height="4.00" fill="#1090f8" fill-opacity="0.27"/>
<rect x="443.00" y="282.00" width="1.00" height="4.00" fill="#68b4f4"/>
<rect x="779.00" y="282.00" width="1.00" height="4.00" fill="#80b4f4"/>
<rect x="784.00" y="282.00" width="1.00" height="4.00" fill="#80b4f4"/>
<rect x="226.00" y="286.00" width="1.00" height="3.00" fill="#10e8f8" fill-opacity="0.85"/>
<rect x="428.00" y="286.00" width="1.00" height="3.00" fill="#10e8f8" fill-opacity="0.27"/>
<rect x="443.00" y="286.00" width="1.00" height="3.00" fill="#68b4f4"/>
<rect x="779.00" y="286.00" width="1.00" height="3.00" fill="#80b4f4"/>
<rect x="784.00" y="286.00" width="1.00" height="3.00" fill="#80b4f4"/>
<rect x="226.00" y="289.00" width="1.00" height="4.00" fill="#11e9f5" fill-opacity="0.4"/>
<rect x="428.00" y="289.00" width="1.00" height="4.00" fill="#11e9f5" fill-opacity="0.27"/>
<rect x="443.00" y="289.00" width="1.00" height="4.00" fill="#68b4f4"/>
<rect x="779.00" y="289.00" width="1.00" height="4.00" fill="#80b4f4"/>
<rect x="784.00" y="289.00" width="1.00" height="4.00" fill="#80b4f4"/>
<rect x="226.00" y="293.00" width="1.00" height="3.00" fill="#12eaf3" fill-opacity="0.85"/>
<rect x="428.00" y="293.00" width="1.00" height="3.00" fill="#12eaf3" fill-opacity="0.27"/>
<rect x="443.00" y="293.00" width="1.00" height="3.00" fill="#68b4f4"/>
<rect x="779.00" y="293.00" width="1.00" height="3.00" fill="#80b4f4"/>
<rect x="784.00" y="293.00" width="1.00" height="3.00" fill="#80b4f4"/>
<rect x="226.00" y="296.00" width="1.00" height="4.00" fill="#13ebf0" fill-opacity="0.85"/>
<rect x="428.00" y="296.00" width="1.00" height="4.00" fill="#13ebf0" fill-opacity="0.27"/>
<rect x="443.00" y="296.00" width="1.00" height="4.00" fill="#68b4f4"/>
<rect x="779.00" y="296.00" width="1.00" height="4.00" fill="#80b4f4"/>
<rect x="784.00" y="296.00" width="1.00" height="4.00" fill="#80b4f4"/>
<rect x="226.00" y="300.00" width="1.00" height="3.00" fill="#14eced" fill-opacity="0.85"/>
<rect x="428.00" y="300.00" width="1.00" height="3.00" fill="#14eced" fill-opacity="0.27"/>
<rect x="443.00" y="300.00" width="1.00" height="3.00" fill="#68b4f4"/>
<rect x="779.00" y="300.00" width="1.00" height="3.00" fill="#80b4f4"/>
<rect x="784.00" y="300.00" width="1.00" height="3.00" fill="#80b4f4"/>
<rect x="226.00" y="303.00" width="1.00" height="3.00" fill="#15edeb" fill-opacity="0.85"/>
<rect x="428.00" y="303.00" width="1.00" height="3.00" fill="#15edeb" fill-opacity="0.27"/>
<rect x="779.00" y="303.00" width="1.00" height="3.00" fill="#80b4f4"/>
<rect x="784.00" y="303.00" width="1.00" height="3.00" fill="#80b4f4"/>
<rect x="226.00" y="306.00" width="1.00" height="4.00" fill="#16eee8" fill-opacity="0.4"/>
<rect x="428.00" y="306.00" width="1.00" height="4.00" fill="#16eee8" fill-opacity="0.27"/>
<rect x="779.00" y="306.00" width="1.00" height="4.00" fill="#16eee8" fill-opacity="0.35"/>
<rect x="784.00" y="306.00" width="1.00" height="4.00" fill="#16eee8" fill-opacity="0.28"/>
<rect x="226.00" y="310.00" width="1.00" height="3.00" fill="#17efe5" fill-opacity="0.85"/>
<rect x="428.00" y="310.00" width="1.00" height="3.00" fill="#17efe5" fill-opacity="0.27"/>
<rect x="779.00" y="310.00" width="1.00" height="3.00" fill="#17efe5" fill-opacity="0.11"/>
<rect x="784.00" y="310.00" width="1.00" height="3.00" fill="#17efe5" fill-opacity="0.28"/>
<rect x="226.00" y="313.00" width="1.00" height="4.00" fill="#19f1e3" fill-opacity="0.85"/>
<rect x="428.00" y="313.00" width="1.00" height="4.00" fill="#19f1e3" fill-opacity="0.27"/>
<rect x="779.00" y="313.00" width="1.00" height="4.00" fill="#19f1e3" fill-opacity="0.35"/>
<rect x="784.00" y="313.00" width="1.00" height="4.00" fill="#19f1e3" fill-opacity="0.07"/>
<rect x="226.00" y="317.00" width="1.00" height="3.00" fill="#1af2e0" fill-opacity="0.85"/>
<rect x="428.00" y="317.00" width="1.00" height="3.00" fill="#1af2e0" fill-opacity="0.27"/>
<rect x="443.00" y="317.00" width="1.00" height="3.00" fill="#1af2e0" fill-opacity="0.48"/>
<rect x="779.00" y="317.00" width="1.00" height="3.00" fill="#1af2e0" fill-opacity="0.11"/>
<rect x="784.00" y="317.00" width="1.00" height="3.00" fill="#1af2e0" fill-opacity="0.28"/>
<rect x="226.00" y="320.00" width="1.00" height="4.00" fill="#1bf3dd" fill-opacity="0.85"/>
<rect x="428.00" y="320.00" width="1.00" height="4.00" fill="#1bf3dd" fill-opacity="0.27"/>
<rect x="443.00" y="320.00" width="1.00" height="4.00" fill="#1bf3dd" fill-opacity="0.48"/>
<rect x="779.00" y="320.00" width="1.00" height="4.00" fill="#1bf3dd" fill-opacity="0.35"/>
<rect x="784.00" y="320.00" width="1.00" height="4.00" fill="#1bf3dd" fill-opacity="0.28"/>
<rect x="226.00" y="324.00" width="1.00" height="3.00" fill="#1cf4db" fill-opacity="0.4"/>
<rect x="428.00" y="324.00" width="1.00" height="3.00" fill="#1cf4db" fill-opacity="0.27"/>
<rect x="443.00" y="324.00" width="1.00" height="3.00" fill="#1cf4db" fill-opacity="0.48"/>
<rect x="779.00" y="324.00" width="1.00" height="3.00" fill="#1cf4db" fill-opacity="0.11"/>
<rect x="784.00" y="324.00" width="1.00" height="3.00" fill="#1cf4db" fill-opacity="0.07"/>
<rect x="226.00" y="327.00" width="1.00" height="4.00" fill="#1df5d8" fill-opacity="0.85"/>
<rect x="428.00" y="327.00" width="1.00" height="4.00" fill="#1df5d8" fill-opacity="0.27"/>
<rect x="443.00" y="327.00" width="1.00" height="4.00" fill="#1df5d8" fill-opacity="0.48"/>
<rect x="779.00" y="327.00" width="1.00" height="4.00" fill="#1df5d8" fill-opacity="0.35"/>
<rect x="784.00" y="327.00" width="1.00" height="4.00" fill="#1df5d8" fill-opacity="0.28"/>
<rect x="226.00" y="331.00" width="1.00" height="3.00" fill="#1ef6d5" fill-opacity="0.85"/>
<rect x="428.00" y="331.00" width="1.00" height="3.00" fill="#1ef6d5" fill-opacity="0.27"/>
<rect x="443.00" y="331.00" width="1.00" height="3.00" fill="#1ef6d5" fill-opacity="0.48"/>
<rect x="779.00" y="331.00" width="1.00" height="3.00" fill="#1ef6d5" fill-opacity="0.11"/>
<rect x="784.00" y="331.00" width="1.00" height="3.00" fill="#1ef6d5" fill-opacity="0.28"/>
<rect x="226.00" y="334.00" width="1.00" height="4.00" fill="#1ff7d3" fill-opacity="0.85"/>
<rect x="428.00" y="334.00" width="1.00" height="4.00" fill="#1ff7d3" fill-opacity="0.27"/>
<rect x="443.00" y="334.00" width="1.00" height="4.00" fill="#1ff7d3" fill-opacity="0.48"/>
<rect x="779.00" y="334.00" width="1.00" height="4.00" fill="#1ff7d3" fill-opacity="0.35"/>
<rect x="784.00" y="334.00" width="1.00" height="4.00" fill="#1ff7d3" fill-opacity="0.07"/>
<rect x="226.00" y="338.00" width="1.00" height="3.00" fill="#20f8d0" fill-opacity="0.85"/>
<rect x="428.00" y="338.00" width="1.00" height="3.00" fill="#20f8d0" fill-opacity="0.27"/>
<rect x="443.00" y="338.00" width="1.00" height="3.00" fill="#20f8d0" fill-opacity="0.48"/>
<rect x="779.00" y="338.00" width="1.00" height="3.00" fill="#20f8d0" fill-opacity="0.11"/>
<rect x="784.00" y="338.00" width="1.00" height="3.00" fill="#20f8d0" fill-opacity="0.28"/>
<rect x="226.00" y="341.00" width="1.00" height="4.00" fill="#ff4808" fill-opacity="0.4"/>
<rect x="428.00" y="341.00" width="1.00" height="4.00" fill="#ff4808" fill-opacity="0.3"/>
<rect x="443.00" y="341.00" width="1.00" height="4.00" fill="#ff4808" fill-opacity="0.48"/>
<rect x="226.00" y="344.00" width="1.00" height="4.00" fill="#ff1808" fill-opacity="0.85"/>
<rect x="428.00" y="344.00" width="1.00" height="4.00" fill="#ff1808" fill-opacity="0.0"/>
<rect x="443.00" y="344.00" width="1.00" height="4.00" fill="#ff1808" fill-opacity="0.0"/>
<rect x="226.00" y="348.00" width="1.00" height="3.00" fill="#ff1808" fill-opacity="0.85"/>
<rect x="428.00" y="348.00" width="1.00" height="3.00" fill="#ff1808" fill-opacity="0.3"/>
<rect x="443.00" y="348.00" width="1.00" height="3.00" fill="#ff1808" fill-opacity="0.48"/>
<rect x="226.00" y="351.00" width="1.00" height="4.00" fill="#ff1808" fill-opacity="0.85"/>
<rect x="428.00" y="351.00" width="1.00" height="4.00" fill="#ff1808" fill-opacity="0.0"/>
<rect x="443.00" y="351.00" width="1.00" height="4.00" fill="#ff1808" fill-opacity="0.0"/>
<rect x="226.00" y="355.00" width="1.00" height="3.00" fill="#ff1808" fill-opacity="0.85"/>
<rect x="428.00" y="355.00" width="1.00" height="3.00" fill="#ff1808" fill-opacity="0.3"/>
<rect x="443.00" y="355.00" width="1.00" height="3.00" fill="#ff1808" fill-opacity="0.48"/>
<rect x="226.00" y="358.00" width="1.00" height="4.00" fill="#ff1808" fill-opacity="0.4"/>
<rect x="428.00" y="358.00" width="1.00" height="4.00" fill="#ff1808" fill-opacity="0.0"/>
<rect x="443.00" y="358.00" width="1.00" height="4.00" fill="#ff1808" fill-opacity="0.0"/>
<rect x="226.00" y="362.00" width="1.00" height="3.00" fill="#ff1808" fill-opacity="0.85"/>
<rect x="428.00" y="362.00" width="1.00" height="3.00" fill="#ff1808" fill-opacity="0.3"/>
<rect x="443.00" y="362.00" width="1.00" height="3.00" fill="#ff1808" fill-opacity="0.48"/>
<rect x="226.00" y="365.00" width="1.00" height="4.00" fill="#ff1808" fill-opacity="0.85"/>
<rect x="428.00" y="365.00" width="1.00" height="4.00" fill="#ff1808" fill-opacity="0.0"/>
<rect x="443.00" y="365.00" width="1.00" height="4.00" fill="#ff1808" fill-opacity="0.0"/>
<rect x="226.00" y="369.00" width="1.00" height="3.00" fill="#ff1808" fill-opacity="0.85"/>
<rect x="428.00" y="369.00" width="1.00" height="3.00" fill="#ff1808" fill-opacity="0.3"/>
<rect x="443.00" y="369.00" width="1.00" height="3.00" fill="#ff1808" fill-opacity="0.48"/>
<rect x="226.00" y="372.00" width="1.00" height="4.00" fill="#ff1808" fill-opacity="0.85"/>
<rect x="428.00" y="372.00" width="1.00" height="4.00" fill="#ff1808" fill-opacity="0.0"/>
<rect x="443.00" y="372.00" width="1.00" height="4.00" fill="#ff1808" fill-opacity="0.0"/>
<rect x="226.00" y="376.00" width="1.00" height="3.00" fill="#ff1808" fill-opacity="0.4"/>
<rect x="428.00" y="376.00" width="1.00" height="3.00" fill="#ff1808" fill-opacity="0.3"/>
<rect x="443.00" y="376.00" width="1.00" height="3.00" fill="#ff1808" fill-opacity="0.48"/>
<rect x="226.00" y="379.00" width="1.00" height="4.00" fill="#ff1808" fill-opacity="0.85"/>
<rect x="428.00" y="379.00" width="1.00" height="4.00" fill="#ff1808" fill-opacity="0.0"/>
<rect x="443.00" y="379.00" width="1.00" height="4.00" fill="#ff1808" fill-opacity="0.0"/>
<rect x="227.00" y="275.00" width="177.00" height="4.00" fill="#1078e0"/>
<rect x="406.00" y="268.00" width="22.00" height="4.00" fill="#1088f0"/>
<rect x="406.00" y="272.00" width="22.00" height="3.00" fill="#1088f0"/>
<rect x="406.00" y="275.00" width="22.00" height="4.00" fill="#1088f0"/>
<rect x="418.00" y="279.00" width="10.00" height="3.00" fill="#1088f0"/>
<rect x="404.00" y="282.00" width="24.00" height="4.00" fill="#1088f0"/>
<rect x="429.00" y="289.00" width="14.00" height="4.00" fill="#10e8f8"/>
<rect x="429.00" y="293.00" width="14.00" height="3.00" fill="#10e8f8"/>
<rect x="429.00" y="296.00" width="14.00" height="4.00" fill="#10e8f8"/>
<rect x="438.00" y="334.00" width="5.00" height="4.00" fill="#20e0b0"/>
<rect x="442.00" y="223.00" width="112.00" height="4.00" fill="#9010e8"/>
<rect x="556.00" y="223.00" width="10.00" height="4.00" fill="#9010e8"/>
<rect x="568.00" y="223.00" width="10.00" height="4.00" fill="#9010e8"/>
<rect x="580.00" y="223.00" width="2.00" height="4.00" fill="#9010e8"/>
<rect x="584.00" y="223.00" width="6.00" height="4.00" fill="#9010e8"/>
<rect x="591.00" y="223.00" width="1.00" height="4.00" fill="#9010e8" fill-opacity="0.9"/>
<rect x="554.00" y="227.00" width="40.00" height="3.00" fill="#1880f0"/>
<rect x="554.00" y="230.00" width="40.00" height="4.00" fill="#1880f0"/>
<rect x="554.00" y="234.00" width="40.00" height="3.00" fill="#1880f0"/>
<rect x="554.00" y="237.00" width="40.00" height="4.00" fill="#1880f0"/>
<rect x="554.00" y="241.00" width="40.00" height="3.00" fill="#1880f0"/>
<rect x="554.00" y="244.00" width="40.00" height="4.00" fill="#1880f0"/>
<rect x="554.00" y="248.00" width="40.00" height="3.00" fill="#1090f8"/>
<rect x="554.00" y="251.00" width="40.00" height="4.00" fill="#1090f8"/>
<rect x="554.00" y="255.00" width="40.00" height="3.00" fill="#1090f8"/>
<rect x="554.00" y="258.00" width="40.00" height="4.00" fill="#1090f8"/>
<rect x="554.00" y="261.00" width="40.00" height="4.00" fill="#1090f8"/>
<rect x="554.00" y="265.00" width="40.00" height="3.00" fill="#1090f8"/>
<rect x="554.00" y="268.00" width="40.00" height="4.00" fill="#1090f8"/>
<rect x="554.00" y="272.00" width="40.00" height="3.00" fill="#1090f8"/>
<rect x="554.00" y="275.00" width="40.00" height="4.00" fill="#1090f8"/>
<rect x="554.00" y="279.00" width="40.00" height="3.00" fill="#1090f8"/>
<rect x="554.00" y="282.00" width="40.00" height="4.00" fill="#1090f8"/>
<rect x="554.00" y="286.00" width="40.00" height="3.00" fill="#10e8f8"/>
<rect x="554.00" y="289.00" width="40.00" height="4.00" fill="#11e9f5"/>
<rect x="554.00" y="293.00" width="40.00" height="3.00" fill="#12eaf3"/>
<rect x="554.00" y="296.00" width="40.00" height="4.00" fill="#13ebf0"/>
<rect x="554.00" y="300.00" width="40.00" height="3.00" fill="#14eced"/>
<rect x="554.00" y="303.00" width="40.00" height="3.00" fill="#15edeb"/>
<rect x="554.00" y="306.00" width="40.00" height="4.00" fill="#16eee8"/>
<rect x="554.00" y="310.00" width="40.00" height="3.00" fill="#17efe5"/>
<rect x="554.00" y="313.00" width="40.00" height="4.00" fill="#19f1e3"/>
<rect x="554.00" y="317.00" width="40.00" height="3.00" fill="#1af2e0"/>
<rect x="554.00" y="320.00" width="40.00" height="4.00" fill="#1bf3dd"/>
<rect x="554.00" y="324.00" width="40.00" height="3.00" fill="#1cf4db"/>
<rect x="554.00" y="327.00" width="40.00" height="4.00" fill="#1df5d8"/>
<rect x="554.00" y="331.00" width="40.00" height="3.00" fill="#1ef6d5"/>
<rect x="554.00" y="334.00" width="40.00" height="4.00" fill="#1ff7d3"/>
<rect x="554.00" y="338.00" width="40.00" height="3.00" fill="#20f8d0"/>
<rect x="594.00" y="286.00" width="24.00" height="3.00" fill="#10e8f8"/>
<rect x="644.00" y="286.00" width="95.00" height="3.00" fill="#10e8f8"/>
<rect x="594.00" y="289.00" width="24.00" height="4.00" fill="#11e9f5"/>
<rect x="644.00" y="289.00" width="95.00" height="4.00" fill="#11e9f5"/>
<rect x="594.00" y="293.00" width="24.00" height="3.00" fill="#12eaf3"/>
<rect x="644.00" y="293.00" width="95.00" height="3.00" fill="#12eaf3"/>
<rect x="594.00" y="296.00" width="24.00" height="4.00" fill="#13ebf0"/>
<rect x="644.00" y="296.00" width="95.00" height="4.00" fill="#13ebf0"/>
<rect x="594.00" y="300.00" width="24.00" height="3.00" fill="#14eced"/>
<rect x="644.00" y="300.00" width="95.00" height="3.00" fill="#14eced"/>
<rect x="594.00" y="303.00" width="24.00" height="3.00" fill="#15edeb"/>
<rect x="644.00" y="303.00" width="95.00" height="3.00" fill="#15edeb"/>
<rect x="594.00" y="306.00" width="24.00" height="4.00" fill="#16eee8"/>
<rect x="644.00" y="306.00" width="95.00" height="4.00" fill="#16eee8"/>
<rect x="594.00" y="310.00" width="24.00" height="3.00" fill="#17efe5"/>
<rect x="644.00" y="310.00" width="95.00" height="3.00" fill="#17efe5"/>
<rect x="594.00" y="313.00" width="24.00" height="4.00" fill="#19f1e3"/>
<rect x="644.00" y="313.00" width="95.00" height="4.00" fill="#19f1e3"/>
<rect x="594.00" y="317.00" width="24.00" height="3.00" fill="#1af2e0"/>
<rect x="644.00" y="317.00" width="95.00" height="3.00" fill="#1af2e0"/>
<rect x="596.00" y="324.00" width="22.00" height="3.00" fill="#1cf4db"/>
<rect x="645.00" y="324.00" width="10.00" height="3.00" fill="#1cf4db"/>
<rect x="661.00" y="324.00" width="43.00" height="3.00" fill="#1cf4db"/>
<rect x="708.00" y="324.00" width="31.00" height="3.00" fill="#1cf4db"/>
<rect x="596.00" y="327.00" width="22.00" height="4.00" fill="#1df5d8"/>
<rect x="645.00" y="327.00" width="10.00" height="4.00" fill="#1df5d8"/>
<rect x="661.00" y="327.00" width="43.00" height="4.00" fill="#1df5d8"/>
<rect x="708.00" y="327.00" width="31.00" height="4.00" fill="#1df5d8"/>
<rect x="596.00" y="334.00" width="22.00" height="4.00" fill="#1ff7d3"/>
<rect x="645.00" y="334.00" width="10.00" height="4.00" fill="#1ff7d3"/>
<rect x="661.00" y="334.00" width="43.00" height="4.00" fill="#1ff7d3"/>
<rect x="708.00" y="334.00" width="31.00" height="4.00" fill="#1ff7d3"/>
<rect x="734.00" y="286.00" width="5.00" height="3.00" fill="#10e8f8"/>
<rect x="734.00" y="289.00" width="5.00" height="4.00" fill="#11e9f5"/>
<rect x="734.00" y="293.00" width="5.00" height="3.00" fill="#12eaf3"/>
<rect x="734.00" y="296.00" width="5.00" height="4.00" fill="#13ebf0"/>
<rect x="734.00" y="300.00" width="5.00" height="3.00" fill="#14eced"/>
<rect x="734.00" y="303.00" width="5.00" height="3.00" fill="#15edeb"/>
<rect x="734.00" y="306.00" width="5.00" height="4.00" fill="#16eee8"/>
<rect x="734.00" y="310.00" width="5.00" height="3.00" fill="#17efe5"/>
<rect x="734.00" y="313.00" width="5.00" height="4.00" fill="#19f1e3"/>
<rect x="734.00" y="317.00" width="5.00" height="3.00" fill="#1af2e0"/>
<rect x="734.00" y="320.00" width="5.00" height="4.00" fill="#1bf3dd"/>
<rect x="734.00" y="324.00" width="5.00" height="3.00" fill="#1cf4db"/>
<rect x="734.00" y="327.00" width="5.00" height="4.00" fill="#1df5d8"/>
<rect x="734.00" y="331.00" width="5.00" height="3.00" fill="#1ef6d5"/>
<rect x="734.00" y="334.00" width="5.00" height="4.00" fill="#1ff7d3"/>
<rect x="734.00" y="338.00" width="5.00" height="3.00" fill="#20f8d0"/>
<rect x="620.00" y="293.00" width="11.00" height="3.00" fill="#12eaf3"/>
<rect x="632.00" y="289.00" width="12.00" height="4.00" fill="#11e9f5"/>
<rect x="632.00" y="296.00" width="12.00" height="4.00" fill="#13ebf0"/>
<rect x="738.00" y="265.00" width="1.00" height="3.00" fill="#2080e0"/>
<rect x="737.00" y="268.00" width="2.00" height="4.00" fill="#2080e0"/>
<rect x="736.00" y="272.00" width="3.00" height="3.00" fill="#2080e0"/>
<rect x="735.00" y="275.00" width="4.00" height="4.00" fill="#2080e0"/>
<rect x="734.00" y="279.00" width="5.00" height="3.00" fill="#2080e0"/>
<rect x="733.00" y="282.00" width="6.00" height="4.00" fill="#2080e0"/>
<rect x="737.00" y="227.00" width="2.00" height="10.00" fill="#3088e8" fill-opacity="0.9"/>
<rect x="737.00" y="239.00" width="2.00" height="9.00" fill="#3088e8" fill-opacity="0.9"/>
<rect x="774.00" y="300.00" width="5.00" height="3.00" fill="#10e8f8" fill-opacity="0.8"/>
<rect x="774.00" y="305.00" width="5.00" height="7.00" fill="#10e8f8"/>
<rect x="599.00" y="344.00" width="9.00" height="4.00" fill="#ff1808"/>
<rect x="611.00" y="344.00" width="8.00" height="4.00" fill="#ff1808"/>
<rect x="645.00" y="344.00" width="10.00" height="4.00" fill="#ff1808"/>
<rect x="661.00" y="344.00" width="40.00" height="4.00" fill="#ff1808"/>
<rect x="710.00" y="344.00" width="8.00" height="4.00" fill="#ff1808"/>
<rect x="720.00" y="344.00" width="65.00" height="4.00" fill="#ff1808"/>
<rect x="599.00" y="348.00" width="9.00" height="3.00" fill="#ff1808"/>
<rect x="611.00" y="348.00" width="8.00" height="3.00" fill="#ff1808"/>
<rect x="645.00" y="348.00" width="10.00" height="3.00" fill="#ff1808"/>
<rect x="661.00" y="348.00" width="40.00" height="3.00" fill="#ff1808"/>
<rect x="710.00" y="348.00" width="8.00" height="3.00" fill="#ff1808"/>
<rect x="720.00" y="348.00" width="65.00" height="3.00" fill="#ff1808"/>
<rect x="599.00" y="351.00" width="9.00" height="4.00" fill="#ff1808"/>
<rect x="611.00" y="351.00" width="8.00" height="4.00" fill="#ff1808"/>
<rect x="645.00" y="351.00" width="10.00" height="4.00" fill="#ff1808"/>
<rect x="661.00" y="351.00" width="40.00" height="4.00" fill="#ff1808"/>
<rect x="710.00" y="351.00" width="8.00" height="4.00" fill="#ff1808"/>
<rect x="720.00" y="351.00" width="65.00" height="4.00" fill="#ff1808"/>
<rect x="599.00" y="355.00" width="9.00" height="3.00" fill="#ff1808"/>
<rect x="611.00" y="355.00" width="8.00" height="3.00" fill="#ff1808"/>
<rect x="645.00" y="355.00" width="10.00" height="3.00" fill="#ff1808"/>
<rect x="661.00" y="355.00" width="40.00" height="3.00" fill="#ff1808"/>
<rect x="710.00" y="355.00" width="8.00" height="3.00" fill="#ff1808"/>
<rect x="720.00" y="355.00" width="65.00" height="3.00" fill="#ff1808"/>
<rect x="599.00" y="358.00" width="9.00" height="4.00" fill="#ff1808"/>
<rect x="611.00" y="358.00" width="8.00" height="4.00" fill="#ff1808"/>
<rect x="645.00" y="358.00" width="10.00" height="4.00" fill="#ff1808"/>
<rect x="661.00" y="358.00" width="40.00" height="4.00" fill="#ff1808"/>
<rect x="710.00" y="358.00" width="8.00" height="4.00" fill="#ff1808"/>
<rect x="720.00" y="358.00" width="65.00" height="4.00" fill="#ff1808"/>
<rect x="599.00" y="362.00" width="9.00" height="3.00" fill="#ff1808"/>
<rect x="611.00" y="362.00" width="8.00" height="3.00" fill="#ff1808"/>
<rect x="645.00" y="362.00" width="10.00" height="3.00" fill="#ff1808"/>
<rect x="661.00" y="362.00" width="40.00" height="3.00" fill="#ff1808"/>
<rect x="710.00" y="362.00" width="8.00" height="3.00" fill="#ff1808"/>
<rect x="720.00" y="362.00" width="65.00" height="3.00" fill="#ff1808"/>
<rect x="599.00" y="365.00" width="9.00" height="4.00" fill="#ff1808"/>
<rect x="611.00" y="365.00" width="8.00" height="4.00" fill="#ff1808"/>
<rect x="645.00" y="365.00" width="10.00" height="4.00" fill="#ff1808"/>
<rect x="661.00" y="365.00" width="40.00" height="4.00" fill="#ff1808"/>
<rect x="710.00" y="365.00" width="8.00" height="4.00" fill="#ff1808"/>
<rect x="720.00" y="365.00" width="65.00" height="4.00" fill="#ff1808"/>
<rect x="599.00" y="369.00" width="9.00" height="3.00" fill="#ff1808"/>
<rect x="611.00" y="369.00" width="8.00" height="3.00" fill="#ff1808"/>
<rect x="645.00" y="369.00" width="10.00" height="3.00" fill="#ff1808"/>
<rect x="661.00" y="369.00" width="40.00" height="3.00" fill="#ff1808"/>
<rect x="710.00" y="369.00" width="8.00" height="3.00" fill="#ff1808"/>
<rect x="720.00" y="369.00" width="65.00" height="3.00" fill="#ff1808"/>
<rect x="599.00" y="372.00" width="9.00" height="4.00" fill="#ff1808"/>
<rect x="611.00" y="372.00" width="8.00" height="4.00" fill="#ff1808"/>
<rect x="645.00" y="372.00" width="10.00" height="4.00" fill="#ff1808"/>
<rect x="661.00" y="372.00" width="40.00" height="4.00" fill="#ff1808"/>
<rect x="710.00" y="372.00" width="8.00" height="4.00" fill="#ff1808"/>
<rect x="720.00" y="372.00" width="65.00" height="4.00" fill="#ff1808"/>
<rect x="599.00" y="376.00" width="9.00" height="3.00" fill="#ff1808"/>
<rect x="611.00" y="376.00" width="8.00" height="3.00" fill="#ff1808"/>
<rect x="645.00" y="376.00" width="10.00" height="3.00" fill="#ff1808"/>
<rect x="661.00" y="376.00" width="40.00" height="3.00" fill="#ff1808"/>
<rect x="710.00" y="376.00" width="8.00" height="3.00" fill="#ff1808"/>
<rect x="720.00" y="376.00" width="65.00" height="3.00" fill="#ff1808"/>
<rect x="599.00" y="379.00" width="9.00" height="4.00" fill="#ff1808"/>
<rect x="611.00" y="379.00" width="8.00" height="4.00" fill="#ff1808"/>
<rect x="645.00" y="379.00" width="10.00" height="4.00" fill="#ff1808"/>
<rect x="661.00" y="379.00" width="40.00" height="4.00" fill="#ff1808"/>
<rect x="710.00" y="379.00" width="8.00" height="4.00" fill="#ff1808"/>
<rect x="720.00" y="379.00" width="65.00" height="4.00" fill="#ff1808"/>
<rect x="645.00" y="379.00" width="140.00" height="4.00" fill="#ff1808"/>
<rect x="647.00" y="376.00" width="6.00" height="3.00" fill="#ff1808"/>
<rect x="662.00" y="376.00" width="37.00" height="3.00" fill="#ff1808"/>
<rect x="702.00" y="376.00" width="2.00" height="3.00" fill="#ff1808"/>
<rect x="706.00" y="376.00" width="2.00" height="3.00" fill="#ff1808"/>
<rect x="711.00" y="376.00" width="74.00" height="3.00" fill="#ff1808"/>
<rect x="735.00" y="341.00" width="50.00" height="4.00" fill="#ff4808"/>
<rect x="599.00" y="355.00" width="1.00" height="3.00" fill="#ffffff"/>
<rect x="599.00" y="358.00" width="1.00" height="4.00" fill="#ffffff"/>
<rect x="599.00" y="362.00" width="1.00" height="3.00" fill="#ffffff"/>
<rect x="599.00" y="365.00" width="1.00" height="4.00" fill="#ffffff"/>
<rect x="599.00" y="369.00" width="1.00" height="3.00" fill="#ffffff"/>
<rect x="599.00" y="372.00" width="1.00" height="4.00" fill="#ffffff"/>
<rect x="599.00" y="376.00" width="1.00" height="3.00" fill="#ffffff"/>
<rect x="599.00" y="379.00" width="1.00" height="4.00" fill="#ffffff"/>
<rect x="553.00" y="341.00" width="1.00" height="4.00" fill="#ff4808" fill-opacity="0.42"/>
<rect x="553.00" y="348.00" width="1.00" height="3.00" fill="#ff1808" fill-opacity="0.42"/>
<rect x="553.00" y="355.00" width="1.00" height="3.00" fill="#ff1808" fill-opacity="0.42"/>
<rect x="553.00" y="362.00" width="1.00" height="3.00" fill="#ff1808" fill-opacity="0.42"/>
<rect x="553.00" y="369.00" width="1.00" height="3.00" fill="#ff1808" fill-opacity="0.42"/>
<rect x="553.00" y="376.00" width="1.00" height="3.00" fill="#ff1808" fill-opacity="0.42"/>
<rect x="555.00" y="244.00" width="1.00" height="97.00" fill="#ffffff" fill-opacity="0.7"/>
<rect x="566.00" y="227.00" width="1.00" height="114.00" fill="#ffffff" fill-opacity="0.75"/>
<rect x="576.00" y="227.00" width="1.00" height="17.00" fill="#ffffff" fill-opacity="0.48"/>
<rect x="579.00" y="286.00" width="2.00" height="55.00" fill="#ffffff" fill-opacity="0.85"/>
<rect x="583.00" y="227.00" width="1.00" height="59.00" fill="#ffffff" fill-opacity="0.45"/>
<rect x="590.00" y="227.00" width="1.00" height="17.00" fill="#ffffff" fill-opacity="0.6"/>
<rect x="592.00" y="286.00" width="1.00" height="55.00" fill="#ffffff" fill-opacity="0.8"/>
<rect x="594.00" y="227.00" width="1.00" height="59.00" fill="#ffffff" fill-opacity="0.5"/>
<rect x="595.00" y="286.00" width="1.00" height="55.00" fill="#ffffff" fill-opacity="0.9"/>
<rect x="600.00" y="286.00" width="1.00" height="55.00" fill="#ffffff" fill-opacity="0.85"/>
<rect x="611.00" y="286.00" width="2.00" height="55.00" fill="#ffffff" fill-opacity="0.9"/>
<rect x="605.00" y="286.00" width="1.00" height="55.00" fill="#ffffff" fill-opacity="0.24"/>
<rect x="653.00" y="286.00" width="3.00" height="55.00" fill="#ffffff" fill-opacity="0.85"/>
<rect x="660.00" y="286.00" width="1.00" height="55.00" fill="#ffffff" fill-opacity="0.85"/>
<rect x="667.00" y="286.00" width="1.00" height="55.00" fill="#ffffff" fill-opacity="0.85"/>
<rect x="674.00" y="286.00" width="1.00" height="55.00" fill="#ffffff" fill-opacity="0.85"/>
<rect x="679.00" y="286.00" width="1.00" height="55.00" fill="#ffffff" fill-opacity="0.85"/>
<rect x="686.00" y="286.00" width="1.00" height="55.00" fill="#ffffff" fill-opacity="0.85"/>
<rect x="692.00" y="286.00" width="1.00" height="55.00" fill="#ffffff" fill-opacity="0.85"/>
<rect x="698.00" y="286.00" width="1.00" height="55.00" fill="#ffffff" fill-opacity="0.85"/>
<rect x="704.00" y="286.00" width="4.00" height="55.00" fill="#ffffff" fill-opacity="0.85"/>
<rect x="713.00" y="286.00" width="1.00" height="55.00" fill="#ffffff" fill-opacity="0.85"/>
<rect x="718.00" y="286.00" width="3.00" height="55.00" fill="#ffffff" fill-opacity="0.85"/>
<rect x="724.00" y="286.00" width="1.00" height="55.00" fill="#ffffff" fill-opacity="0.68"/>
<rect x="728.00" y="286.00" width="2.00" height="55.00" fill="#ffffff" fill-opacity="0.85"/>
<rect x="651.00" y="341.00" width="1.00" height="35.00" fill="#ffffff" fill-opacity="0.35"/>
<rect x="664.00" y="341.00" width="1.00" height="35.00" fill="#ffffff" fill-opacity="0.3"/>
<rect x="671.00" y="341.00" width="1.00" height="35.00" fill="#ffffff" fill-opacity="0.48"/>
<rect x="677.00" y="341.00" width="1.00" height="35.00" fill="#ffffff" fill-opacity="0.24"/>
<rect x="683.00" y="341.00" width="1.00" height="35.00" fill="#ffffff" fill-opacity="0.48"/>
<rect x="689.00" y="341.00" width="1.00" height="35.00" fill="#ffffff" fill-opacity="0.35"/>
<rect x="694.00" y="341.00" width="1.00" height="35.00" fill="#ffffff" fill-opacity="0.48"/>
<rect x="697.00" y="341.00" width="2.00" height="35.00" fill="#ffffff" fill-opacity="0.9"/>
<rect x="714.00" y="341.00" width="1.00" height="35.00" fill="#ffffff" fill-opacity="0.48"/>
<rect x="721.00" y="341.00" width="1.00" height="35.00" fill="#ffffff" fill-opacity="0.9"/>
<rect x="726.00" y="341.00" width="1.00" height="35.00" fill="#ffffff" fill-opacity="0.35"/>
<rect x="731.00" y="341.00" width="1.00" height="35.00" fill="#ffffff" fill-opacity="0.48"/>
<rect x="738.00" y="341.00" width="2.00" height="35.00" fill="#ffffff" fill-opacity="0.95"/>
<rect x="744.00" y="341.00" width="1.00" height="35.00" fill="#ffffff" fill-opacity="0.8"/>
<rect x="748.00" y="341.00" width="1.00" height="35.00" fill="#ffffff" fill-opacity="0.48"/>
<rect x="754.00" y="341.00" width="1.00" height="35.00" fill="#ffffff" fill-opacity="0.8"/>
<rect x="759.00" y="341.00" width="1.00" height="35.00" fill="#ffffff" fill-opacity="0.35"/>
<rect x="765.00" y="341.00" width="2.00" height="35.00" fill="#ffffff" fill-opacity="0.9"/>
<rect x="770.00" y="341.00" width="1.00" height="35.00" fill="#ffffff" fill-opacity="0.42"/>
<rect x="774.00" y="341.00" width="2.00" height="35.00" fill="#ffffff" fill-opacity="0.9"/>
<rect x="780.00" y="341.00" width="2.00" height="35.00" fill="#ffffff" fill-opacity="0.9"/>
<rect x="603.00" y="344.00" width="1.00" height="39.00" fill="#ffffff" fill-opacity="0.42"/>
<rect x="698.00" y="379.00" width="1.00" height="4.00" fill="#ffffff" fill-opacity="0.55"/>
<rect x="703.00" y="379.00" width="1.00" height="4.00" fill="#ffffff" fill-opacity="0.55"/>
<rect x="707.00" y="379.00" width="1.00" height="4.00" fill="#ffffff" fill-opacity="0.55"/>
<rect x="712.00" y="379.00" width="1.00" height="4.00" fill="#ffffff" fill-opacity="0.55"/>
<rect x="716.00" y="379.00" width="1.00" height="4.00" fill="#ffffff" fill-opacity="0.55"/>
<rect x="721.00" y="379.00" width="1.00" height="4.00" fill="#ffffff" fill-opacity="0.55"/>
<rect x="656.00" y="379.00" width="1.00" height="4.00" fill="#ffffff" fill-opacity="0.5"/>
<rect x="659.00" y="379.00" width="1.00" height="4.00" fill="#ffffff" fill-opacity="0.5"/>
</g>
<g id="trees">
<path d="M19.87 80.57H35.79M35.79 51.25V109.89" stroke="#40e574" stroke-width="0.7" fill="none"/>
<path d="M35.79 51.25H51.71M51.71 35.92V66.59" stroke="#40bde5" stroke-width="0.7" fill="none"/>
<path d="M51.71 35.92H67.63M67.63 24.85V46.99" stroke="#4089e5" stroke-width="0.7" fill="none"/>
<path d="M67.63 24.85H83.56M83.56 16.42V33.28" stroke="#4071e5" stroke-width="0.7" fill="none"/>
<path d="M83.56 16.42H99.48M99.48 11.33V21.52" stroke="#4062e5" stroke-width="0.7" fill="none"/>
<path d="M99.48 11.33H115.40M115.40 6.63V16.03" stroke="#4061e5" stroke-width="0.7" fill="none"/>
<path d="M115.40 6.63H131.33M131.33 4.28V8.98" stroke="#405fe5" stroke-width="0.7" fill="none"/>
<path d="M131.33 4.28H147.25M147.25 2.71V5.84" stroke="#405fe5" stroke-width="0.7" fill="none"/>
<path d="M147.25 2.71H163.17" stroke="#405ee5" stroke-width="0.7" fill="none"/>
<text x="165.07" y="4.40" font-size="4.7" font-family="DejaVu Sans, Liberation Sans, sans-serif" text-anchor="start" stroke="#000" stroke-width="0.22">1E9M_A</text>
<path d="M147.25 5.84H163.17" stroke="#405fe5" stroke-width="0.7" fill="none"/>
<text x="165.07" y="7.54" font-size="4.7" font-family="DejaVu Sans, Liberation Sans, sans-serif" text-anchor="start" stroke="#000" stroke-width="0.22">FER_AVIDN</text>
<path d="M131.33 8.98H147.25" stroke="#4061e5" stroke-width="0.7" fill="none"/>
<text x="149.15" y="10.67" font-size="4.7" font-family="DejaVu Sans, Liberation Sans, sans-serif" text-anchor="start" stroke="#000" stroke-width="0.22">FER_BUCAP</text>
<path d="M115.40 16.03H131.33M131.33 13.68V18.38" stroke="#4063e5" stroke-width="0.7" fill="none"/>
<path d="M131.33 13.68H147.25M147.25 12.11V15.25" stroke="#4063e5" stroke-width="0.7" fill="none"/>
<path d="M147.25 12.11H163.17" stroke="#4062e5" stroke-width="0.7" fill="none"/>
<text x="165.07" y="13.81" font-size="4.7" font-family="DejaVu Sans, Liberation Sans, sans-serif" text-anchor="start" stroke="#000" stroke-width="0.22">FER_PSEAE</text>
<path d="M147.25 15.25H163.17" stroke="#4063e5" stroke-width="0.7" fill="none"/>
<text x="165.07" y="16.94" font-size="4.7" font-family="DejaVu Sans, Liberation Sans, sans-serif" text-anchor="start" stroke="#000" stroke-width="0.22">FER_BUCBP</text>
<path d="M131.33 18.38H147.25" stroke="#406de5" stroke-width="0.7" fill="none"/>
<text x="149.15" y="20.08" font-size="4.7" font-family="DejaVu Sans, Liberation Sans, sans-serif" text-anchor="start" stroke="#000" stroke-width="0.22">FER_BUCAI</text>
<path d="M99.48 21.52H115.40" stroke="#4076e5" stroke-width="0.7" fill="none"/>
<text x="117.30" y="23.21" font-size="4.7" font-family="DejaVu Sans, Liberation Sans, sans-serif" text-anchor="start" stroke="#000" stroke-width="0.22">ADXH_DROME</text>
<path d="M83.56 33.28H99.48M99.48 29.36V37.20" stroke="#4092e5" stroke-width="0.7" fill="none"/>
<path d="M99.48 29.36H115.40M115.40 26.22V32.49" stroke="#408ee5" stroke-width="0.7" fill="none"/>
<path d="M115.40 26.22H131.33M131.33 24.65V27.79" stroke="#4084e5" stroke-width="0.7" fill="none"/>
<path d="M131.33 24.65H147.25" stroke="#407fe5" stroke-width="0.7" fill="none"/>
<text x="149.15" y="26.35" font-size="4.7" font-family="DejaVu Sans, Liberation Sans, sans-serif" text-anchor="start" stroke="#000" stroke-width="0.22">FER6_RHOCA</text>
<path d="M131.33 27.79H147.25" stroke="#4089e5" stroke-width="0.7" fill="none"/>
<text x="149.15" y="29.48" font-size="4.7" font-family="DejaVu Sans, Liberation Sans, sans-serif" text-anchor="start" stroke="#000" stroke-width="0.22">PUTX_PSEPU</text>
<path d="M115.40 32.49H131.33M131.33 30.92V34.06" stroke="#4099e5" stroke-width="0.7" fill="none"/>
<path d="M131.33 30.92H147.25" stroke="#4092e5" stroke-width="0.7" fill="none"/>
<text x="149.15" y="32.62" font-size="4.7" font-family="DejaVu Sans, Liberation Sans, sans-serif" text-anchor="start" stroke="#000" stroke-width="0.22">THCC_RHOER</text>
<path d="M131.33 34.06H147.25" stroke="#409fe5" stroke-width="0.7" fill="none"/>
<text x="149.15" y="35.75" font-size="4.7" font-family="DejaVu Sans, Liberation Sans, sans-serif" text-anchor="start" stroke="#000" stroke-width="0.22">TERP_PSESP</text>
<path d="M99.48 37.20H115.40" stroke="#40abe5" stroke-width="0.7" fill="none"/>
<text x="117.30" y="38.89" font-size="4.7" font-family="DejaVu Sans, Liberation Sans, sans-serif" text-anchor="start" stroke="#000" stroke-width="0.22">ETP1_SCHPO</text>
<path d="M67.63 46.99H83.56M83.56 42.68V51.30" stroke="#40d0e5" stroke-width="0.7" fill="none"/>
<path d="M83.56 42.68H99.48M99.48 40.33V45.03" stroke="#40c3e5" stroke-width="0.7" fill="none"/>
<path d="M99.48 40.33H115.40" stroke="#40b7e5" stroke-width="0.7" fill="none"/>
<text x="117.30" y="42.02" font-size="4.7" font-family="DejaVu Sans, Liberation Sans, sans-serif" text-anchor="start" stroke="#000" stroke-width="0.22">FER2_CAUCR</text>
<path d="M99.48 45.03H115.40M115.40 43.47V46.60" stroke="#40c9e5" stroke-width="0.7" fill="none"/>
<path d="M115.40 43.47H131.33" stroke="#40c3e5" stroke-width="0.7" fill="none"/>
<text x="133.23" y="45.16" font-size="4.7" font-family="DejaVu Sans, Liberation Sans, sans-serif" text-anchor="start" stroke="#000" stroke-width="0.22">ADX2_TBCDN</text>
<path d="M115.40 46.60H131.33" stroke="#40d0e5" stroke-width="0.7" fill="none"/>
<text x="133.23" y="48.29" font-size="4.7" font-family="DejaVu Sans, Liberation Sans, sans-serif" text-anchor="start" stroke="#000" stroke-width="0.22">ADRX_YEAST</text>
<path d="M83.56 51.30H99.48M99.48 49.74V52.87" stroke="#40e5e0" stroke-width="0.7" fill="none"/>
<path d="M99.48 49.74H115.40" stroke="#40e2e5" stroke-width="0.7" fill="none"/>
<text x="117.30" y="51.43" font-size="4.7" font-family="DejaVu Sans, Liberation Sans, sans-serif" text-anchor="start" stroke="#000" stroke-width="0.22">ADX_CHICK</text>
<path d="M99.48 52.87H115.40" stroke="#40e5d7" stroke-width="0.7" fill="none"/>
<text x="117.30" y="54.56" font-size="4.7" font-family="DejaVu Sans, Liberation Sans, sans-serif" text-anchor="start" stroke="#000" stroke-width="0.22">ADX1_BOVIN</text>
<path d="M51.71 66.59H67.63M67.63 58.75V74.43" stroke="#40e589" stroke-width="0.7" fill="none"/>
<path d="M67.63 58.75H83.56M83.56 56.01V61.49" stroke="#40e5ac" stroke-width="0.7" fill="none"/>
<path d="M83.56 56.01H99.48" stroke="#40e5c5" stroke-width="0.7" fill="none"/>
<text x="101.38" y="57.70" font-size="4.7" font-family="DejaVu Sans, Liberation Sans, sans-serif" text-anchor="start" stroke="#000" stroke-width="0.22">MMOC_METCA</text>
<path d="M83.56 61.49H99.48M99.48 59.14V63.84" stroke="#40e5a5" stroke-width="0.7" fill="none"/>
<path d="M99.48 59.14H115.40" stroke="#40e5b3" stroke-width="0.7" fill="none"/>
<text x="117.30" y="60.83" font-size="4.7" font-family="DejaVu Sans, Liberation Sans, sans-serif" text-anchor="start" stroke="#000" stroke-width="0.22">1I7H_A</text>
<path d="M99.48 63.84H115.40M115.40 62.28V65.41" stroke="#40e59e" stroke-width="0.7" fill="none"/>
<path d="M115.40 62.28H131.33" stroke="#40e5a5" stroke-width="0.7" fill="none"/>
<text x="133.23" y="63.97" font-size="4.7" font-family="DejaVu Sans, Liberation Sans, sans-serif" text-anchor="start" stroke="#000" stroke-width="0.22">XYLZ_PSEPU</text>
<path d="M115.40 65.41H131.33" stroke="#40e597" stroke-width="0.7" fill="none"/>
<text x="133.23" y="67.10" font-size="4.7" font-family="DejaVu Sans, Liberation Sans, sans-serif" text-anchor="start" stroke="#000" stroke-width="0.22">CBDC_BURCE</text>
<path d="M67.63 74.43H83.56M83.56 70.11V78.74" stroke="#40e562" stroke-width="0.7" fill="none"/>
<path d="M83.56 70.11H99.48M99.48 68.55V71.68" stroke="#40e582" stroke-width="0.7" fill="none"/>
<path d="M99.48 68.55H115.40" stroke="#40e589" stroke-width="0.7" fill="none"/>
<text x="117.30" y="70.24" font-size="4.7" font-family="DejaVu Sans, Liberation Sans, sans-serif" text-anchor="start" stroke="#000" stroke-width="0.22">BENC_ACIAD</text>
<path d="M99.48 71.68H115.40" stroke="#40e57b" stroke-width="0.7" fill="none"/>
<text x="117.30" y="73.37" font-size="4.7" font-family="DejaVu Sans, Liberation Sans, sans-serif" text-anchor="start" stroke="#000" stroke-width="0.22">ASCD_YERPS</text>
<path d="M83.56 78.74H99.48M99.48 76.39V81.09" stroke="#40e540" stroke-width="0.7" fill="none"/>
<path d="M99.48 76.39H115.40M115.40 74.82V77.95" stroke="#40e551" stroke-width="0.7" fill="none"/>
<path d="M115.40 74.82H131.33" stroke="#40e562" stroke-width="0.7" fill="none"/>
<text x="133.23" y="76.51" font-size="4.7" font-family="DejaVu Sans, Liberation Sans, sans-serif" text-anchor="start" stroke="#000" stroke-width="0.22">TMOF_PSESP</text>
<path d="M115.40 77.95H131.33" stroke="#40e540" stroke-width="0.7" fill="none"/>
<text x="133.23" y="79.64" font-size="4.7" font-family="DejaVu Sans, Liberation Sans, sans-serif" text-anchor="start" stroke="#000" stroke-width="0.22">DMPP_ACICA</text>
<path d="M99.48 81.09H115.40" stroke="#63e540" stroke-width="0.7" fill="none"/>
<text x="117.30" y="82.78" font-size="4.7" font-family="DejaVu Sans, Liberation Sans, sans-serif" text-anchor="start" stroke="#000" stroke-width="0.22">NDOR_PSEPU</text>
<path d="M35.79 109.89H51.71M51.71 96.96V122.83" stroke="#e5a340" stroke-width="0.7" fill="none"/>
<path d="M51.71 96.96H67.63M67.63 91.67V102.25" stroke="#d5e540" stroke-width="0.7" fill="none"/>
<path d="M67.63 91.67H83.56M83.56 88.14V95.20" stroke="#cae540" stroke-width="0.7" fill="none"/>
<path d="M83.56 88.14H99.48M99.48 85.79V90.49" stroke="#aae540" stroke-width="0.7" fill="none"/>
<path d="M99.48 85.79H115.40M115.40 84.22V87.36" stroke="#98e540" stroke-width="0.7" fill="none"/>
<path d="M115.40 84.22H131.33" stroke="#87e540" stroke-width="0.7" fill="none"/>
<text x="133.23" y="85.92" font-size="4.7" font-family="DejaVu Sans, Liberation Sans, sans-serif" text-anchor="start" stroke="#000" stroke-width="0.22">NQR6_PSEAE</text>
<path d="M115.40 87.36H131.33" stroke="#aae540" stroke-width="0.7" fill="none"/>
<text x="133.23" y="89.05" font-size="4.7" font-family="DejaVu Sans, Liberation Sans, sans-serif" text-anchor="start" stroke="#000" stroke-width="0.22">NQRF_HAEIN</text>
<path d="M99.48 90.49H115.40" stroke="#cae540" stroke-width="0.7" fill="none"/>
<text x="117.30" y="92.19" font-size="4.7" font-family="DejaVu Sans, Liberation Sans, sans-serif" text-anchor="start" stroke="#000" stroke-width="0.22">NQRF_VIBCH</text>
<path d="M83.56 95.20H99.48M99.48 93.63V96.76" stroke="#d5e540" stroke-width="0.7" fill="none"/>
<path d="M99.48 93.63H115.40" stroke="#d2e540" stroke-width="0.7" fill="none"/>
<text x="117.30" y="95.32" font-size="4.7" font-family="DejaVu Sans, Liberation Sans, sans-serif" text-anchor="start" stroke="#000" stroke-width="0.22">TBUC_PSEPI</text>
<path d="M99.48 96.76H115.40" stroke="#d9e540" stroke-width="0.7" fill="none"/>
<text x="117.30" y="98.46" font-size="4.7" font-family="DejaVu Sans, Liberation Sans, sans-serif" text-anchor="start" stroke="#000" stroke-width="0.22">XYLA_PSEPU</text>
<path d="M67.63 102.25H83.56M83.56 99.90V104.60" stroke="#e5e140" stroke-width="0.7" fill="none"/>
<path d="M83.56 99.90H99.48" stroke="#e1e540" stroke-width="0.7" fill="none"/>
<text x="101.38" y="101.59" font-size="4.7" font-family="DejaVu Sans, Liberation Sans, sans-serif" text-anchor="start" stroke="#000" stroke-width="0.22">FER_HALMA</text>
<path d="M83.56 104.60H99.48M99.48 103.03V106.17" stroke="#e5d940" stroke-width="0.7" fill="none"/>
<path d="M99.48 103.03H115.40" stroke="#e5e140" stroke-width="0.7" fill="none"/>
<text x="117.30" y="104.73" font-size="4.7" font-family="DejaVu Sans, Liberation Sans, sans-serif" text-anchor="start" stroke="#000" stroke-width="0.22">PAAE_ECOLI</text>
<path d="M99.48 106.17H115.40" stroke="#e5d140" stroke-width="0.7" fill="none"/>
<text x="117.30" y="107.86" font-size="4.7" font-family="DejaVu Sans, Liberation Sans, sans-serif" text-anchor="start" stroke="#000" stroke-width="0.22">HCR_ECOLI</text>
<path d="M51.71 122.83H67.63M67.63 111.66V133.99" stroke="#e55d40" stroke-width="0.7" fill="none"/>
<path d="M67.63 111.66H83.56M83.56 109.30V114.01" stroke="#e5b040" stroke-width="0.7" fill="none"/>
<path d="M83.56 109.30H99.48" stroke="#e5c040" stroke-width="0.7" fill="none"/>
<text x="101.38" y="111.00" font-size="4.7" font-family="DejaVu Sans, Liberation Sans, sans-serif" text-anchor="start" stroke="#000" stroke-width="0.22">YCBX_ECOLI</text>
<path d="M83.56 114.01H99.48M99.48 112.44V115.58" stroke="#e5a340" stroke-width="0.7" fill="none"/>
<path d="M99.48 112.44H115.40" stroke="#e5b040" stroke-width="0.7" fill="none"/>
<text x="117.30" y="114.13" font-size="4.7" font-family="DejaVu Sans, Liberation Sans, sans-serif" text-anchor="start" stroke="#000" stroke-width="0.22">FERB_PSEPU</text>
<path d="M99.48 115.58H115.40" stroke="#e59640" stroke-width="0.7" fill="none"/>
<text x="117.30" y="117.27" font-size="4.7" font-family="DejaVu Sans, Liberation Sans, sans-serif" text-anchor="start" stroke="#000" stroke-width="0.22">FER2_SYNP6</text>
<path d="M67.63 133.99H83.56M83.56 128.12V139.87" stroke="#e55540" stroke-width="0.7" fill="none"/>
<path d="M83.56 128.12H99.48M99.48 123.41V132.82" stroke="#e55d40" stroke-width="0.7" fill="none"/>
<path d="M99.48 123.41H115.40M115.40 120.28V126.55" stroke="#e56240" stroke-width="0.7" fill="none"/>
<path d="M115.40 120.28H131.33M131.33 118.71V121.85" stroke="#e56e40" stroke-width="0.7" fill="none"/>
<path d="M131.33 118.71H147.25" stroke="#e57c40" stroke-width="0.7" fill="none"/>
<text x="149.15" y="120.40" font-size="4.7" font-family="DejaVu Sans, Liberation Sans, sans-serif" text-anchor="start" stroke="#000" stroke-width="0.22">2pia_</text>
<path d="M131.33 121.85H147.25" stroke="#e56540" stroke-width="0.7" fill="none"/>
<text x="149.15" y="123.54" font-size="4.7" font-family="DejaVu Sans, Liberation Sans, sans-serif" text-anchor="start" stroke="#000" stroke-width="0.22">PHT2_PSEPU</text>
<path d="M115.40 126.55H131.33M131.33 124.98V128.12" stroke="#e55d40" stroke-width="0.7" fill="none"/>
<path d="M131.33 124.98H147.25" stroke="#e56040" stroke-width="0.7" fill="none"/>
<text x="149.15" y="126.67" font-size="4.7" font-family="DejaVu Sans, Liberation Sans, sans-serif" text-anchor="start" stroke="#000" stroke-width="0.22">VANB_PSES9</text>
<path d="M131.33 128.12H147.25" stroke="#e55a40" stroke-width="0.7" fill="none"/>
<text x="149.15" y="129.81" font-size="4.7" font-family="DejaVu Sans, Liberation Sans, sans-serif" text-anchor="start" stroke="#000" stroke-width="0.22">VANB_PSE39</text>
<path d="M99.48 132.82H115.40M115.40 131.25V134.39" stroke="#e55240" stroke-width="0.7" fill="none"/>
<path d="M115.40 131.25H131.33" stroke="#e55540" stroke-width="0.7" fill="none"/>
<text x="133.23" y="132.94" font-size="4.7" font-family="DejaVu Sans, Liberation Sans, sans-serif" text-anchor="start" stroke="#000" stroke-width="0.22">CBAB_COMTE</text>
<path d="M115.40 134.39H131.33" stroke="#e54f40" stroke-width="0.7" fill="none"/>
<text x="133.23" y="136.08" font-size="4.7" font-family="DejaVu Sans, Liberation Sans, sans-serif" text-anchor="start" stroke="#000" stroke-width="0.22">TEAB_ECOLI</text>
<path d="M83.56 139.87H99.48M99.48 137.52V142.22" stroke="#e54840" stroke-width="0.7" fill="none"/>
<path d="M99.48 137.52H115.40" stroke="#e54a40" stroke-width="0.7" fill="none"/>
<text x="117.30" y="139.21" font-size="4.7" font-family="DejaVu Sans, Liberation Sans, sans-serif" text-anchor="start" stroke="#000" stroke-width="0.22">POBB_PSEPS</text>
<path d="M99.48 142.22H115.40M115.40 140.66V143.79" stroke="#e54640" stroke-width="0.7" fill="none"/>
<path d="M115.40 140.66H131.33" stroke="#e54840" stroke-width="0.7" fill="none"/>
<text x="133.23" y="142.35" font-size="4.7" font-family="DejaVu Sans, Liberation Sans, sans-serif" text-anchor="start" stroke="#000" stroke-width="0.22">VANB_ACICA</text>
<path d="M115.40 143.79H131.33" stroke="#e54540" stroke-width="0.7" fill="none"/>
<text x="133.23" y="145.48" font-size="4.7" font-family="DejaVu Sans, Liberation Sans, sans-serif" text-anchor="start" stroke="#000" stroke-width="0.22">VANB_PSEPU</text>
<rect x="12.7" y="0.2" width="186.3" height="146.10000000000002" fill="none" stroke="#111" stroke-width="0.75"/>
<path d="M19.87 146.30L19.87 144.70" stroke="#222" stroke-width="0.4" fill="none" />
<path d="M19.87 0.20L19.87 1.80" stroke="#222" stroke-width="0.4" fill="none" />
<text x="19.87" y="151.90" font-size="4.9" font-family="DejaVu Sans, Liberation Sans, sans-serif" text-anchor="middle" stroke="#000" stroke-width="0.18">0</text>
<path d="M51.71 146.30L51.71 144.70" stroke="#222" stroke-width="0.4" fill="none" />
<path d="M51.71 0.20L51.71 1.80" stroke="#222" stroke-width="0.4" fill="none" />
<text x="51.71" y="151.90" font-size="4.9" font-family="DejaVu Sans, Liberation Sans, sans-serif" text-anchor="middle" stroke="#000" stroke-width="0.18">2</text>
<path d="M83.56 146.30L83.56 144.70" stroke="#222" stroke-width="0.4" fill="none" />
<path d="M83.56 0.20L83.56 1.80" stroke="#222" stroke-width="0.4" fill="none" />
<text x="83.56" y="151.90" font-size="4.9" font-family="DejaVu Sans, Liberation Sans, sans-serif" text-anchor="middle" stroke="#000" stroke-width="0.18">4</text>
<path d="M115.40 146.30L115.40 144.70" stroke="#222" stroke-width="0.4" fill="none" />
<path d="M115.40 0.20L115.40 1.80" stroke="#222" stroke-width="0.4" fill="none" />
<text x="115.40" y="151.90" font-size="4.9" font-family="DejaVu Sans, Liberation Sans, sans-serif" text-anchor="middle" stroke="#000" stroke-width="0.18">6</text>
<path d="M147.25 146.30L147.25 144.70" stroke="#222" stroke-width="0.4" fill="none" />
<path d="M147.25 0.20L147.25 1.80" stroke="#222" stroke-width="0.4" fill="none" />
<text x="147.25" y="151.90" font-size="4.9" font-family="DejaVu Sans, Liberation Sans, sans-serif" text-anchor="middle" stroke="#000" stroke-width="0.18">8</text>
<path d="M179.10 146.30L179.10 144.70" stroke="#222" stroke-width="0.4" fill="none" />
<path d="M179.10 0.20L179.10 1.80" stroke="#222" stroke-width="0.4" fill="none" />
<text x="179.10" y="151.90" font-size="4.9" font-family="DejaVu Sans, Liberation Sans, sans-serif" text-anchor="middle" stroke="#000" stroke-width="0.18">10</text>
<path d="M12.70 30.92L14.30 30.92" stroke="#222" stroke-width="0.4" fill="none" />
<path d="M199.00 30.92L197.40 30.92" stroke="#222" stroke-width="0.4" fill="none" />
<text x="11.40" y="32.72" font-size="4.9" font-family="DejaVu Sans, Liberation Sans, sans-serif" text-anchor="end" stroke="#000" stroke-width="0.18">10</text>
<path d="M12.70 62.28L14.30 62.28" stroke="#222" stroke-width="0.4" fill="none" />
<path d="M199.00 62.28L197.40 62.28" stroke="#222" stroke-width="0.4" fill="none" />
<text x="11.40" y="64.08" font-size="4.9" font-family="DejaVu Sans, Liberation Sans, sans-serif" text-anchor="end" stroke="#000" stroke-width="0.18">20</text>
<path d="M12.70 93.63L14.30 93.63" stroke="#222" stroke-width="0.4" fill="none" />
<path d="M199.00 93.63L197.40 93.63" stroke="#222" stroke-width="0.4" fill="none" />
<text x="11.40" y="95.43" font-size="4.9" font-family="DejaVu Sans, Liberation Sans, sans-serif" text-anchor="end" stroke="#000" stroke-width="0.18">30</text>
<path d="M12.70 124.98L14.30 124.98" stroke="#222" stroke-width="0.4" fill="none" />
<path d="M199.00 124.98L197.40 124.98" stroke="#222" stroke-width="0.4" fill="none" />
<text x="11.40" y="126.78" font-size="4.9" font-family="DejaVu Sans, Liberation Sans, sans-serif" text-anchor="end" stroke="#000" stroke-width="0.18">40</text>
<text x="105.85" y="157.50" font-size="4.9" font-family="DejaVu Sans, Liberation Sans, sans-serif" text-anchor="middle" stroke="#000" stroke-width="0.18">branch length</text>
<text x="4.60" y="73.25" font-size="4.9" font-family="DejaVu Sans, Liberation Sans, sans-serif" text-anchor="middle" stroke="#000" stroke-width="0.18" transform="rotate(-90 4.6 73.25)">taxa</text>
<path d="M19.60 267.05H19.60M19.60 225.99V308.11" stroke="#80dcf4" stroke-width="0.7" fill="none"/>
<path d="M19.60 225.99H49.40" stroke="#d4a4ec" stroke-width="1.5" fill="none"/>
<text x="51.20" y="227.69" font-size="4.7" font-family="DejaVu Sans, Liberation Sans, sans-serif" text-anchor="start" stroke="#000" stroke-width="0.22">YCBX_ECOLI</text>
<path d="M19.60 308.11H49.40M49.40 272.72V343.51" stroke="#68e050" stroke-width="0.7" fill="none"/>
<path d="M49.40 272.72H74.40M74.40 254.50V290.94" stroke="#58bcf0" stroke-width="0.7" fill="none"/>
<path d="M74.40 254.50H98.20M98.20 236.91V272.08" stroke="#3c8ce8" stroke-width="0.7" fill="none"/>
<path d="M98.20 236.91H108.30M108.30 229.11V244.70" stroke="#2070e0" stroke-width="0.7" fill="none"/>
<path d="M108.30 229.11H110.50" stroke="#2070e0" stroke-width="0.7" fill="none"/>
<text x="112.30" y="230.80" font-size="4.7" font-family="DejaVu Sans, Liberation Sans, sans-serif" text-anchor="start" stroke="#000" stroke-width="0.22">1I7H_A</text>
<path d="M108.30 232.23H110.20" stroke="#2070e0" stroke-width="0.7" fill="none"/>
<text x="112.00" y="233.92" font-size="4.7" font-family="DejaVu Sans, Liberation Sans, sans-serif" text-anchor="start" stroke="#000" stroke-width="0.22">FER_AVIDN</text>
<path d="M108.30 236.91H109.30M109.30 235.35V238.47" stroke="#2070e0" stroke-width="0.7" fill="none"/>
<path d="M109.30 235.35H110.60" stroke="#2070e0" stroke-width="0.7" fill="none"/>
<text x="112.40" y="237.04" font-size="4.7" font-family="DejaVu Sans, Liberation Sans, sans-serif" text-anchor="start" stroke="#000" stroke-width="0.22">FER_BUCBP</text>
<path d="M109.30 238.47H110.40" stroke="#2070e0" stroke-width="0.7" fill="none"/>
<text x="112.20" y="240.16" font-size="4.7" font-family="DejaVu Sans, Liberation Sans, sans-serif" text-anchor="start" stroke="#000" stroke-width="0.22">FER_BUCAP</text>
<path d="M108.30 241.58H110.30" stroke="#2070e0" stroke-width="0.7" fill="none"/>
<text x="112.10" y="243.28" font-size="4.7" font-family="DejaVu Sans, Liberation Sans, sans-serif" text-anchor="start" stroke="#000" stroke-width="0.22">FER_BUCAI</text>
<path d="M108.30 244.70H110.60" stroke="#2070e0" stroke-width="0.7" fill="none"/>
<text x="112.40" y="246.39" font-size="4.7" font-family="DejaVu Sans, Liberation Sans, sans-serif" text-anchor="start" stroke="#000" stroke-width="0.22">FER_PSEAE</text>
<path d="M98.20 272.08H108.30M108.30 266.72V277.44" stroke="#3c8ce8" stroke-width="0.7" fill="none"/>
<path d="M108.30 266.72H114.80M114.80 262.24V271.21" stroke="#3c8ce8" stroke-width="0.7" fill="none"/>
<path d="M114.80 262.24H120.50M120.50 257.95V266.53" stroke="#3c8ce8" stroke-width="0.7" fill="none"/>
<path d="M120.50 257.95H125.60M125.60 254.06V261.85" stroke="#3c8ce8" stroke-width="0.7" fill="none"/>
<path d="M125.60 254.06H129.50M129.50 250.94V257.17" stroke="#3c8ce8" stroke-width="0.7" fill="none"/>
<path d="M129.50 250.94H131.50M131.50 247.82V254.06" stroke="#3c8ce8" stroke-width="0.7" fill="none"/>
<path d="M131.50 247.82H133.80" stroke="#3c8ce8" stroke-width="0.7" fill="none"/>
<text x="135.60" y="249.51" font-size="4.7" font-family="DejaVu Sans, Liberation Sans, sans-serif" text-anchor="start" stroke="#000" stroke-width="0.22">FER2_CAUCR</text>
<path d="M131.50 250.94H133.40" stroke="#3c8ce8" stroke-width="0.7" fill="none"/>
<text x="135.20" y="252.63" font-size="4.7" font-family="DejaVu Sans, Liberation Sans, sans-serif" text-anchor="start" stroke="#000" stroke-width="0.22">FER6_RHOCA</text>
<path d="M131.50 254.06H133.60" stroke="#3c8ce8" stroke-width="0.7" fill="none"/>
<text x="135.40" y="255.75" font-size="4.7" font-family="DejaVu Sans, Liberation Sans, sans-serif" text-anchor="start" stroke="#000" stroke-width="0.22">FER1_RHOCA</text>
<path d="M129.50 257.17H133.00" stroke="#3c8ce8" stroke-width="0.7" fill="none"/>
<text x="134.80" y="258.87" font-size="4.7" font-family="DejaVu Sans, Liberation Sans, sans-serif" text-anchor="start" stroke="#000" stroke-width="0.22">PUTX_PSEPU</text>
<path d="M125.60 261.85H128.00M128.00 260.29V263.41" stroke="#3c8ce8" stroke-width="0.7" fill="none"/>
<path d="M128.00 260.29H131.50" stroke="#3c8ce8" stroke-width="0.7" fill="none"/>
<text x="133.30" y="261.98" font-size="4.7" font-family="DejaVu Sans, Liberation Sans, sans-serif" text-anchor="start" stroke="#000" stroke-width="0.22">ADXH_DROME</text>
<path d="M128.00 263.41H130.50" stroke="#3c8ce8" stroke-width="0.7" fill="none"/>
<text x="132.30" y="265.10" font-size="4.7" font-family="DejaVu Sans, Liberation Sans, sans-serif" text-anchor="start" stroke="#000" stroke-width="0.22">ADRX_YEAST</text>
<path d="M120.50 266.53H127.00" stroke="#3c8ce8" stroke-width="0.7" fill="none"/>
<text x="128.80" y="268.22" font-size="4.7" font-family="DejaVu Sans, Liberation Sans, sans-serif" text-anchor="start" stroke="#000" stroke-width="0.22">ADX2_TBCDN</text>
<path d="M114.80 271.21H118.00M118.00 269.65V272.76" stroke="#3c8ce8" stroke-width="0.7" fill="none"/>
<path d="M118.00 269.65H123.50" stroke="#3c8ce8" stroke-width="0.7" fill="none"/>
<text x="125.30" y="271.34" font-size="4.7" font-family="DejaVu Sans, Liberation Sans, sans-serif" text-anchor="start" stroke="#000" stroke-width="0.22">FDX2_HUMAN</text>
<path d="M118.00 272.76H122.00" stroke="#3c8ce8" stroke-width="0.7" fill="none"/>
<text x="123.80" y="274.46" font-size="4.7" font-family="DejaVu Sans, Liberation Sans, sans-serif" text-anchor="start" stroke="#000" stroke-width="0.22">ETP1_SCHPO</text>
<path d="M108.30 277.44H114.80M114.80 275.88V279.00" stroke="#3c8ce8" stroke-width="0.7" fill="none"/>
<path d="M114.80 275.88H118.60" stroke="#3c8ce8" stroke-width="0.7" fill="none"/>
<text x="120.40" y="277.57" font-size="4.7" font-family="DejaVu Sans, Liberation Sans, sans-serif" text-anchor="start" stroke="#000" stroke-width="0.22">ADX_CHICK</text>
<path d="M114.80 279.00H118.40" stroke="#3c8ce8" stroke-width="0.7" fill="none"/>
<text x="120.20" y="280.69" font-size="4.7" font-family="DejaVu Sans, Liberation Sans, sans-serif" text-anchor="start" stroke="#000" stroke-width="0.22">ADX1_BOVIN</text>
<path d="M74.40 290.94H98.20M98.20 282.12V299.76" stroke="#38dcf0" stroke-width="0.7" fill="none"/>
<path d="M98.20 282.12H113.00" stroke="#38dcf0" stroke-width="0.7" fill="none"/>
<text x="114.80" y="283.81" font-size="4.7" font-family="DejaVu Sans, Liberation Sans, sans-serif" text-anchor="start" stroke="#000" stroke-width="0.22">MMOC_METCA</text>
<path d="M98.20 299.76H112.60M112.60 288.35V311.16" stroke="#38dcf0" stroke-width="0.7" fill="none"/>
<path d="M112.60 288.35H125.60M125.60 285.24V291.47" stroke="#38dcf0" stroke-width="0.7" fill="none"/>
<path d="M125.60 285.24H128.20" stroke="#38dcf0" stroke-width="0.7" fill="none"/>
<text x="130.00" y="286.93" font-size="4.7" font-family="DejaVu Sans, Liberation Sans, sans-serif" text-anchor="start" stroke="#000" stroke-width="0.22">NQRF_PSEAE</text>
<path d="M125.60 288.35H128.00" stroke="#38dcf0" stroke-width="0.7" fill="none"/>
<text x="129.80" y="290.05" font-size="4.7" font-family="DejaVu Sans, Liberation Sans, sans-serif" text-anchor="start" stroke="#000" stroke-width="0.22">NQRF_HAEIN</text>
<path d="M125.60 291.47H128.00" stroke="#38dcf0" stroke-width="0.7" fill="none"/>
<text x="129.80" y="293.16" font-size="4.7" font-family="DejaVu Sans, Liberation Sans, sans-serif" text-anchor="start" stroke="#000" stroke-width="0.22">NQRF_VIBCH</text>
<path d="M112.60 311.16H124.90M124.90 301.61V320.70" stroke="#38dcf0" stroke-width="0.7" fill="none"/>
<path d="M124.90 301.61H135.40M135.40 296.15V307.06" stroke="#38dcf0" stroke-width="0.7" fill="none"/>
<path d="M135.40 296.15H142.90M142.90 294.59V297.71" stroke="#38dcf0" stroke-width="0.7" fill="none"/>
<path d="M142.90 294.59H145.50" stroke="#38dcf0" stroke-width="0.7" fill="none"/>
<text x="147.30" y="296.28" font-size="4.7" font-family="DejaVu Sans, Liberation Sans, sans-serif" text-anchor="start" stroke="#000" stroke-width="0.22">XYLZ_PSEPU</text>
<path d="M142.90 297.71H145.30" stroke="#38dcf0" stroke-width="0.7" fill="none"/>
<text x="147.10" y="299.40" font-size="4.7" font-family="DejaVu Sans, Liberation Sans, sans-serif" text-anchor="start" stroke="#000" stroke-width="0.22">CBDC_BURCE</text>
<path d="M135.40 307.06H143.60M143.60 303.95V310.18" stroke="#38dcf0" stroke-width="0.7" fill="none"/>
<path d="M143.60 303.95H150.10M150.10 300.83V307.06" stroke="#38dcf0" stroke-width="0.7" fill="none"/>
<path d="M150.10 300.83H155.50" stroke="#38dcf0" stroke-width="0.7" fill="none"/>
<text x="157.30" y="302.52" font-size="4.7" font-family="DejaVu Sans, Liberation Sans, sans-serif" text-anchor="start" stroke="#000" stroke-width="0.22">TMOF_PSESP</text>
<path d="M150.10 303.95H155.20" stroke="#38dcf0" stroke-width="0.7" fill="none"/>
<text x="157.00" y="305.64" font-size="4.7" font-family="DejaVu Sans, Liberation Sans, sans-serif" text-anchor="start" stroke="#000" stroke-width="0.22">DMPP_ACICA</text>
<path d="M150.10 307.06H155.40" stroke="#38dcf0" stroke-width="0.7" fill="none"/>
<text x="157.20" y="308.76" font-size="4.7" font-family="DejaVu Sans, Liberation Sans, sans-serif" text-anchor="start" stroke="#000" stroke-width="0.22">NDOR_PSEPU</text>
<path d="M143.60 310.18H151.00" stroke="#38dcf0" stroke-width="0.7" fill="none"/>
<text x="152.80" y="311.87" font-size="4.7" font-family="DejaVu Sans, Liberation Sans, sans-serif" text-anchor="start" stroke="#000" stroke-width="0.22">THCC_RHOER</text>
<path d="M124.90 320.70H135.00M135.00 316.42V324.99" stroke="#38dcf0" stroke-width="0.7" fill="none"/>
<path d="M135.00 316.42H143.60M143.60 313.30V319.54" stroke="#38dcf0" stroke-width="0.7" fill="none"/>
<path d="M143.60 313.30H150.80" stroke="#38dcf0" stroke-width="0.7" fill="none"/>
<text x="152.60" y="314.99" font-size="4.7" font-family="DejaVu Sans, Liberation Sans, sans-serif" text-anchor="start" stroke="#000" stroke-width="0.22">1E9M_A</text>
<path d="M143.60 316.42H151.00" stroke="#38dcf0" stroke-width="0.7" fill="none"/>
<text x="152.80" y="318.11" font-size="4.7" font-family="DejaVu Sans, Liberation Sans, sans-serif" text-anchor="start" stroke="#000" stroke-width="0.22">ASCD_YERPS</text>
<path d="M143.60 319.54H150.60" stroke="#38dcf0" stroke-width="0.7" fill="none"/>
<text x="152.40" y="321.23" font-size="4.7" font-family="DejaVu Sans, Liberation Sans, sans-serif" text-anchor="start" stroke="#000" stroke-width="0.22">XYLA_PSEPU</text>
<path d="M135.00 324.99H144.30M144.30 322.65V327.33" stroke="#38dcf0" stroke-width="0.7" fill="none"/>
<path d="M144.30 322.65H153.00" stroke="#38dcf0" stroke-width="0.7" fill="none"/>
<text x="154.80" y="324.35" font-size="4.7" font-family="DejaVu Sans, Liberation Sans, sans-serif" text-anchor="start" stroke="#000" stroke-width="0.22">FERB_PSEPU</text>
<path d="M144.30 327.33H153.00M153.00 325.77V328.89" stroke="#38dcf0" stroke-width="0.7" fill="none"/>
<path d="M153.00 325.77H159.80" stroke="#38dcf0" stroke-width="0.7" fill="none"/>
<text x="161.60" y="327.46" font-size="4.7" font-family="DejaVu Sans, Liberation Sans, sans-serif" text-anchor="start" stroke="#000" stroke-width="0.22">TERP_PSESP</text>
<path d="M153.00 328.89H159.80" stroke="#38dcf0" stroke-width="0.7" fill="none"/>
<text x="161.60" y="330.58" font-size="4.7" font-family="DejaVu Sans, Liberation Sans, sans-serif" text-anchor="start" stroke="#000" stroke-width="0.22">FER2_SYNP6</text>
<path d="M49.40 343.51H74.60M74.60 332.01V355.00" stroke="#f05840" stroke-width="0.7" fill="none"/>
<path d="M74.60 332.01H95.50" stroke="#f05840" stroke-width="0.7" fill="none"/>
<text x="97.30" y="333.70" font-size="4.7" font-family="DejaVu Sans, Liberation Sans, sans-serif" text-anchor="start" stroke="#000" stroke-width="0.22">FER_HALMA</text>
<path d="M74.60 355.00H95.50M95.50 345.26V364.75" stroke="#f05840" stroke-width="0.7" fill="none"/>
<path d="M95.50 345.26H109.20M109.20 338.24V352.27" stroke="#f05840" stroke-width="0.7" fill="none"/>
<path d="M109.20 338.24H114.30M114.30 335.13V341.36" stroke="#f05840" stroke-width="0.7" fill="none"/>
<path d="M114.30 335.13H118.00" stroke="#f05840" stroke-width="0.7" fill="none"/>
<text x="119.80" y="336.82" font-size="4.7" font-family="DejaVu Sans, Liberation Sans, sans-serif" text-anchor="start" stroke="#000" stroke-width="0.22">POBB_PSEPS</text>
<path d="M114.30 338.24H118.00" stroke="#f05840" stroke-width="0.7" fill="none"/>
<text x="119.80" y="339.94" font-size="4.7" font-family="DejaVu Sans, Liberation Sans, sans-serif" text-anchor="start" stroke="#000" stroke-width="0.22">CBAB_COMTE</text>
<path d="M114.30 341.36H117.50" stroke="#f05840" stroke-width="0.7" fill="none"/>
<text x="119.30" y="343.05" font-size="4.7" font-family="DejaVu Sans, Liberation Sans, sans-serif" text-anchor="start" stroke="#000" stroke-width="0.22">TEAB_ECOLI</text>
<path d="M109.20 352.27H113.50M113.50 344.48V360.07" stroke="#f05840" stroke-width="0.7" fill="none"/>
<path d="M113.50 344.48H118.00" stroke="#f05840" stroke-width="0.7" fill="none"/>
<text x="119.80" y="346.17" font-size="4.7" font-family="DejaVu Sans, Liberation Sans, sans-serif" text-anchor="start" stroke="#000" stroke-width="0.22">2PIA_A</text>
<path d="M113.50 349.16H115.50M115.50 347.60V350.72" stroke="#f05840" stroke-width="0.7" fill="none"/>
<path d="M115.50 347.60H118.00" stroke="#f05840" stroke-width="0.7" fill="none"/>
<text x="119.80" y="349.29" font-size="4.7" font-family="DejaVu Sans, Liberation Sans, sans-serif" text-anchor="start" stroke="#000" stroke-width="0.22">PHT2_PSEPU</text>
<path d="M115.50 350.72H118.20" stroke="#f05840" stroke-width="0.7" fill="none"/>
<text x="120.00" y="352.41" font-size="4.7" font-family="DejaVu Sans, Liberation Sans, sans-serif" text-anchor="start" stroke="#000" stroke-width="0.22">VANB_ACICA</text>
<path d="M113.50 355.39H116.00M116.00 353.83V356.95" stroke="#f05840" stroke-width="0.7" fill="none"/>
<path d="M116.00 353.83H118.50" stroke="#f05840" stroke-width="0.7" fill="none"/>
<text x="120.30" y="355.53" font-size="4.7" font-family="DejaVu Sans, Liberation Sans, sans-serif" text-anchor="start" stroke="#000" stroke-width="0.22">VANB_PSES9</text>
<path d="M116.00 356.95H118.40" stroke="#f05840" stroke-width="0.7" fill="none"/>
<text x="120.20" y="358.64" font-size="4.7" font-family="DejaVu Sans, Liberation Sans, sans-serif" text-anchor="start" stroke="#000" stroke-width="0.22">VANB_PSE39</text>
<path d="M113.50 360.07H118.00" stroke="#f05840" stroke-width="0.7" fill="none"/>
<text x="119.80" y="361.76" font-size="4.7" font-family="DejaVu Sans, Liberation Sans, sans-serif" text-anchor="start" stroke="#000" stroke-width="0.22">VANB_PSEPU</text>
<path d="M95.50 364.75H109.20M109.20 363.19V366.31" stroke="#f05840" stroke-width="0.7" fill="none"/>
<path d="M109.20 363.19H117.90" stroke="#f05840" stroke-width="0.7" fill="none"/>
<text x="119.70" y="364.88" font-size="4.7" font-family="DejaVu Sans, Liberation Sans, sans-serif" text-anchor="start" stroke="#000" stroke-width="0.22">PAAE_ECOLI</text>
<path d="M109.20 366.31H117.90" stroke="#f05840" stroke-width="0.7" fill="none"/>
<text x="119.70" y="368.00" font-size="4.7" font-family="DejaVu Sans, Liberation Sans, sans-serif" text-anchor="start" stroke="#000" stroke-width="0.22">HCR_ECOLI</text>
<rect x="12.6" y="223.5" width="182.70000000000002" height="145.3" fill="none" stroke="#111" stroke-width="0.75"/>
<path d="M19.60 368.80L19.60 367.20" stroke="#222" stroke-width="0.4" fill="none" />
<path d="M19.60 223.50L19.60 225.10" stroke="#222" stroke-width="0.4" fill="none" />
<text x="19.60" y="375.00" font-size="4.9" font-family="DejaVu Sans, Liberation Sans, sans-serif" text-anchor="middle" stroke="#000" stroke-width="0.18">0.0</text>
<path d="M63.52 368.80L63.52 367.20" stroke="#222" stroke-width="0.4" fill="none" />
<path d="M63.52 223.50L63.52 225.10" stroke="#222" stroke-width="0.4" fill="none" />
<text x="63.52" y="375.00" font-size="4.9" font-family="DejaVu Sans, Liberation Sans, sans-serif" text-anchor="middle" stroke="#000" stroke-width="0.18">0.5</text>
<path d="M107.44 368.80L107.44 367.20" stroke="#222" stroke-width="0.4" fill="none" />
<path d="M107.44 223.50L107.44 225.10" stroke="#222" stroke-width="0.4" fill="none" />
<text x="107.44" y="375.00" font-size="4.9" font-family="DejaVu Sans, Liberation Sans, sans-serif" text-anchor="middle" stroke="#000" stroke-width="0.18">1.0</text>
<path d="M151.35 368.80L151.35 367.20" stroke="#222" stroke-width="0.4" fill="none" />
<path d="M151.35 223.50L151.35 225.10" stroke="#222" stroke-width="0.4" fill="none" />
<text x="151.35" y="375.00" font-size="4.9" font-family="DejaVu Sans, Liberation Sans, sans-serif" text-anchor="middle" stroke="#000" stroke-width="0.18">1.5</text>
<path d="M195.27 368.80L195.27 367.20" stroke="#222" stroke-width="0.4" fill="none" />
<path d="M195.27 223.50L195.27 225.10" stroke="#222" stroke-width="0.4" fill="none" />
<text x="195.27" y="375.00" font-size="4.9" font-family="DejaVu Sans, Liberation Sans, sans-serif" text-anchor="middle" stroke="#000" stroke-width="0.18">2.0</text>
<path d="M12.60 254.06L14.20 254.06" stroke="#222" stroke-width="0.4" fill="none" />
<path d="M195.30 254.06L193.70 254.06" stroke="#222" stroke-width="0.4" fill="none" />
<text x="11.30" y="255.86" font-size="4.9" font-family="DejaVu Sans, Liberation Sans, sans-serif" text-anchor="end" stroke="#000" stroke-width="0.18">10</text>
<path d="M12.60 285.24L14.20 285.24" stroke="#222" stroke-width="0.4" fill="none" />
<path d="M195.30 285.24L193.70 285.24" stroke="#222" stroke-width="0.4" fill="none" />
<text x="11.30" y="287.04" font-size="4.9" font-family="DejaVu Sans, Liberation Sans, sans-serif" text-anchor="end" stroke="#000" stroke-width="0.18">20</text>
<path d="M12.60 316.42L14.20 316.42" stroke="#222" stroke-width="0.4" fill="none" />
<path d="M195.30 316.42L193.70 316.42" stroke="#222" stroke-width="0.4" fill="none" />
<text x="11.30" y="318.22" font-size="4.9" font-family="DejaVu Sans, Liberation Sans, sans-serif" text-anchor="end" stroke="#000" stroke-width="0.18">30</text>
<path d="M12.60 347.60L14.20 347.60" stroke="#222" stroke-width="0.4" fill="none" />
<path d="M195.30 347.60L193.70 347.60" stroke="#222" stroke-width="0.4" fill="none" />
<text x="11.30" y="349.40" font-size="4.9" font-family="DejaVu Sans, Liberation Sans, sans-serif" text-anchor="end" stroke="#000" stroke-width="0.18">40</text>
<text x="103.95" y="380.60" font-size="4.9" font-family="DejaVu Sans, Liberation Sans, sans-serif" text-anchor="middle" stroke="#000" stroke-width="0.18">branch length</text>
<text x="4.60" y="296.15" font-size="4.9" font-family="DejaVu Sans, Liberation Sans, sans-serif" text-anchor="middle" stroke="#000" stroke-width="0.18" transform="rotate(-90 4.6 296.15)">taxa</text>
</g>
<g id="captions" fill="#111">
<text x="0.60" y="187.70" font-size="27.0" font-family="Liberation Serif, DejaVu Serif, serif">(</text>
<text transform="translate(9.40 186.40) scale(1.5 1)" x="-0.76" y="0" font-size="20.5" font-family="Liberation Serif, DejaVu Serif, serif">a</text>
<text x="20.20" y="187.70" font-size="27.0" font-family="Liberation Serif, DejaVu Serif, serif">)</text>
<text x="688.80" y="187.70" font-size="27.0" font-family="Liberation Serif, DejaVu Serif, serif">(</text>
<text transform="translate(698.30 186.40) scale(1.1 1)" x="-0.07" y="0" font-size="22.5" font-family="Liberation Serif, DejaVu Serif, serif">b</text>
<text x="709.80" y="187.70" font-size="27.0" font-family="Liberation Serif, DejaVu Serif, serif">)</text>
<text x="0.90" y="411.60" font-size="27.0" font-family="Liberation Serif, DejaVu Serif, serif">(</text>
<text transform="translate(9.30 410.30) scale(1.15 1)" x="-0.51" y="0" font-size="20.5" font-family="Liberation Serif, DejaVu Serif, serif">c</text>
<text x="18.30" y="411.60" font-size="27.0" font-family="Liberation Serif, DejaVu Serif, serif">)</text>
<text x="694.70" y="411.60" font-size="27.0" font-family="Liberation Serif, DejaVu Serif, serif">(</text>
<text transform="translate(703.80 410.30) scale(1.12 1)" x="-0.61" y="0" font-size="22.5" font-family="Liberation Serif, DejaVu Serif, serif">d</text>
<text x="715.60" y="411.60" font-size="27.0" font-family="Liberation Serif, DejaVu Serif, serif">)</text>
<text transform="translate(293.2 186.3) scale(1.05 1)" font-size="23.3" font-family="Liberation Serif, DejaVu Serif, serif" letter-spacing="0.22">Probalign</text>
<text transform="translate(286.6 410.0) scale(1.05 1)" font-size="23.3" font-family="Liberation Serif, DejaVu Serif, serif" letter-spacing="0">MSAProbs</text>
</g>
</svg></body></html>
